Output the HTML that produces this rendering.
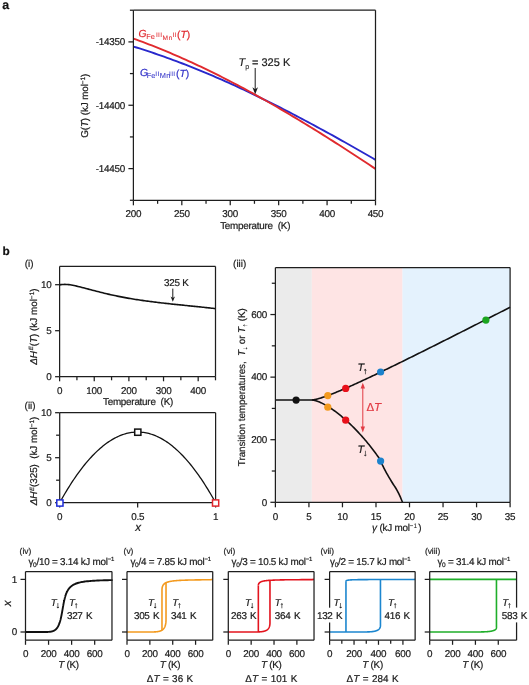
<!DOCTYPE html>
<html><head><meta charset="utf-8"><style>
html,body{margin:0;padding:0;background:#fff;}
svg{display:block;font-family:"Liberation Sans", Arial, sans-serif;text-rendering:geometricPrecision;}
</style></head><body>
<svg width="529" height="685" viewBox="0 0 529 685">
<rect width="529" height="685" fill="#fff"/>
<text x="2.20" y="8.90" font-size="12.4" text-anchor="start" fill="#111" stroke="#111" stroke-width="0.2" font-weight="bold" >a</text>
<path d="M133.40,46.57 L136.46,47.51 L139.53,48.46 L142.59,49.44 L145.66,50.43 L148.72,51.43 L151.79,52.45 L154.85,53.49 L157.92,54.54 L160.98,55.61 L164.05,56.69 L167.11,57.79 L170.17,58.90 L173.24,60.03 L176.30,61.17 L179.37,62.33 L182.43,63.50 L185.50,64.69 L188.56,65.89 L191.63,67.10 L194.69,68.33 L197.76,69.57 L200.82,70.83 L203.88,72.10 L206.95,73.38 L210.01,74.67 L213.08,75.98 L216.14,77.30 L219.21,78.63 L222.27,79.98 L225.34,81.34 L228.40,82.71 L231.47,84.09 L234.53,85.48 L237.59,86.89 L240.66,88.31 L243.72,89.74 L246.79,91.18 L249.85,92.63 L252.92,94.09 L255.98,95.56 L259.05,97.04 L262.11,98.54 L265.18,100.04 L268.24,101.56 L271.31,103.08 L274.37,104.62 L277.43,106.16 L280.50,107.71 L283.56,109.28 L286.63,110.85 L289.69,112.43 L292.76,114.02 L295.82,115.62 L298.89,117.23 L301.95,118.85 L305.02,120.47 L308.08,122.10 L311.14,123.75 L314.21,125.40 L317.27,127.05 L320.34,128.72 L323.40,130.39 L326.47,132.07 L329.53,133.76 L332.60,135.45 L335.66,137.15 L338.73,138.86 L341.79,140.57 L344.85,142.29 L347.92,144.02 L350.98,145.75 L354.05,147.49 L357.11,149.24 L360.18,150.99 L363.24,152.74 L366.31,154.51 L369.37,156.27 L372.44,158.04 L375.50,159.82" fill="none" stroke="#2828cc" stroke-width="1.9" stroke-linejoin="round" stroke-linecap="butt" />
<path d="M133.40,38.62 L136.46,39.72 L139.53,40.84 L142.59,41.97 L145.66,43.12 L148.72,44.29 L151.79,45.48 L154.85,46.69 L157.92,47.91 L160.98,49.15 L164.05,50.40 L167.11,51.68 L170.17,52.97 L173.24,54.27 L176.30,55.59 L179.37,56.93 L182.43,58.28 L185.50,59.65 L188.56,61.04 L191.63,62.44 L194.69,63.86 L197.76,65.29 L200.82,66.73 L203.88,68.19 L206.95,69.67 L210.01,71.16 L213.08,72.66 L216.14,74.18 L219.21,75.71 L222.27,77.26 L225.34,78.82 L228.40,80.39 L231.47,81.98 L234.53,83.58 L237.59,85.20 L240.66,86.82 L243.72,88.46 L246.79,90.11 L249.85,91.78 L252.92,93.45 L255.98,95.14 L259.05,96.85 L262.11,98.56 L265.18,100.28 L268.24,102.02 L271.31,103.77 L274.37,105.53 L277.43,107.30 L280.50,109.08 L283.56,110.87 L286.63,112.67 L289.69,114.49 L292.76,116.31 L295.82,118.14 L298.89,119.99 L301.95,121.84 L305.02,123.70 L308.08,125.58 L311.14,127.46 L314.21,129.35 L317.27,131.25 L320.34,133.16 L323.40,135.08 L326.47,137.01 L329.53,138.94 L332.60,140.89 L335.66,142.84 L338.73,144.80 L341.79,146.77 L344.85,148.74 L347.92,150.73 L350.98,152.72 L354.05,154.72 L357.11,156.72 L360.18,158.73 L363.24,160.75 L366.31,162.78 L369.37,164.81 L372.44,166.85 L375.50,168.89" fill="none" stroke="#e02a2e" stroke-width="1.9" stroke-linejoin="round" stroke-linecap="butt" />
<line x1="133.40" y1="10.20" x2="375.50" y2="10.20" stroke="#1e1e1e" stroke-width="1.25" />
<line x1="375.50" y1="10.20" x2="375.50" y2="200.30" stroke="#1e1e1e" stroke-width="1.25" />
<line x1="133.40" y1="10.20" x2="133.40" y2="200.30" stroke="#1e1e1e" stroke-width="1.25" />
<line x1="133.40" y1="200.30" x2="375.50" y2="200.30" stroke="#1e1e1e" stroke-width="1.25" />
<line x1="129.90" y1="10.22" x2="133.40" y2="10.22" stroke="#1e1e1e" stroke-width="1.25" />
<line x1="128.40" y1="41.90" x2="133.40" y2="41.90" stroke="#1e1e1e" stroke-width="1.25" />
<text x="124.90" y="45.20" font-size="9.9" text-anchor="end" fill="#1a1a1a" stroke="#1a1a1a" stroke-width="0.2"  letter-spacing="-0.25">-14350</text>
<line x1="129.90" y1="73.58" x2="133.40" y2="73.58" stroke="#1e1e1e" stroke-width="1.25" />
<line x1="128.40" y1="105.25" x2="133.40" y2="105.25" stroke="#1e1e1e" stroke-width="1.25" />
<text x="124.90" y="108.55" font-size="9.9" text-anchor="end" fill="#1a1a1a" stroke="#1a1a1a" stroke-width="0.2"  letter-spacing="-0.25">-14400</text>
<line x1="129.90" y1="136.93" x2="133.40" y2="136.93" stroke="#1e1e1e" stroke-width="1.25" />
<line x1="128.40" y1="168.60" x2="133.40" y2="168.60" stroke="#1e1e1e" stroke-width="1.25" />
<text x="124.90" y="171.90" font-size="9.9" text-anchor="end" fill="#1a1a1a" stroke="#1a1a1a" stroke-width="0.2"  letter-spacing="-0.25">-14450</text>
<line x1="129.90" y1="200.28" x2="133.40" y2="200.28" stroke="#1e1e1e" stroke-width="1.25" />
<line x1="133.40" y1="200.30" x2="133.40" y2="205.30" stroke="#1e1e1e" stroke-width="1.25" />
<text x="133.40" y="216.90" font-size="9.9" text-anchor="middle" fill="#1a1a1a" stroke="#1a1a1a" stroke-width="0.2"  letter-spacing="-0.25">200</text>
<line x1="157.61" y1="200.30" x2="157.61" y2="203.80" stroke="#1e1e1e" stroke-width="1.25" />
<line x1="181.82" y1="200.30" x2="181.82" y2="205.30" stroke="#1e1e1e" stroke-width="1.25" />
<text x="181.82" y="216.90" font-size="9.9" text-anchor="middle" fill="#1a1a1a" stroke="#1a1a1a" stroke-width="0.2"  letter-spacing="-0.25">250</text>
<line x1="206.03" y1="200.30" x2="206.03" y2="203.80" stroke="#1e1e1e" stroke-width="1.25" />
<line x1="230.24" y1="200.30" x2="230.24" y2="205.30" stroke="#1e1e1e" stroke-width="1.25" />
<text x="230.24" y="216.90" font-size="9.9" text-anchor="middle" fill="#1a1a1a" stroke="#1a1a1a" stroke-width="0.2"  letter-spacing="-0.25">300</text>
<line x1="254.45" y1="200.30" x2="254.45" y2="203.80" stroke="#1e1e1e" stroke-width="1.25" />
<line x1="278.66" y1="200.30" x2="278.66" y2="205.30" stroke="#1e1e1e" stroke-width="1.25" />
<text x="278.66" y="216.90" font-size="9.9" text-anchor="middle" fill="#1a1a1a" stroke="#1a1a1a" stroke-width="0.2"  letter-spacing="-0.25">350</text>
<line x1="302.87" y1="200.30" x2="302.87" y2="203.80" stroke="#1e1e1e" stroke-width="1.25" />
<line x1="327.08" y1="200.30" x2="327.08" y2="205.30" stroke="#1e1e1e" stroke-width="1.25" />
<text x="327.08" y="216.90" font-size="9.9" text-anchor="middle" fill="#1a1a1a" stroke="#1a1a1a" stroke-width="0.2"  letter-spacing="-0.25">400</text>
<line x1="351.29" y1="200.30" x2="351.29" y2="203.80" stroke="#1e1e1e" stroke-width="1.25" />
<line x1="375.50" y1="200.30" x2="375.50" y2="205.30" stroke="#1e1e1e" stroke-width="1.25" />
<text x="375.50" y="216.90" font-size="9.9" text-anchor="middle" fill="#1a1a1a" stroke="#1a1a1a" stroke-width="0.2"  letter-spacing="-0.25">450</text>
<text x="255.20" y="228.80" font-size="9.9" text-anchor="middle" fill="#1a1a1a" stroke="#1a1a1a" stroke-width="0.2"  letter-spacing="-0.25">Temperature&#160; (K)</text>
<text transform="translate(88.4,105.8) rotate(-90)" font-size="9.9" letter-spacing="-0.1" text-anchor="middle" fill="#1a1a1a" stroke="#1a1a1a" stroke-width="0.2">G(<tspan font-style="italic">T</tspan>) (kJ mol<tspan font-size="6.5" dy="-3.5">−1</tspan><tspan dy="3.5">)</tspan></text>
<text x="238.60" y="65.50" font-size="11" text-anchor="start" fill="#1a1a1a" stroke="#1a1a1a" stroke-width="0.2" font-style="italic" >T</text>
<text x="245.30" y="68.80" font-size="7.2" text-anchor="start" fill="#1a1a1a" stroke="#1a1a1a" stroke-width="0.05" >p</text>
<text x="252.00" y="65.50" font-size="11" text-anchor="start" fill="#1a1a1a" stroke="#1a1a1a" stroke-width="0.2" >= 325 K</text>
<line x1="255.20" y1="68.00" x2="255.20" y2="90.00" stroke="#1a1a1a" stroke-width="1.0" />
<path d="M252.4,87.2 L255.2,94.2 L258.0,87.2 L255.2,89.2 Z" fill="#1a1a1a"/>
<text x="138.50" y="36.60" font-size="10.3" text-anchor="start" fill="#e0262c" stroke="#e0262c" stroke-width="0.2" font-style="italic" >G</text>
<text x="146.20" y="39.30" font-size="7.4" text-anchor="start" fill="#e0262c" stroke="#e0262c" stroke-width="0.05" >Fe</text>
<text x="155.90" y="37.20" font-size="6.6" text-anchor="start" fill="#e0262c" stroke="#e0262c" stroke-width="0.05" letter-spacing="0.3">III</text>
<text x="162.50" y="39.50" font-size="6.6" text-anchor="start" fill="#e0262c" stroke="#e0262c" stroke-width="0.05" letter-spacing="0.8">Mn</text>
<text x="172.40" y="37.20" font-size="6.6" text-anchor="start" fill="#e0262c" stroke="#e0262c" stroke-width="0.05" letter-spacing="0.3">II</text>
<text x="177.00" y="37.60" font-size="10.3" text-anchor="start" fill="#e0262c" stroke="#e0262c" stroke-width="0.2" >(<tspan font-style="italic">T</tspan>)</text>
<text x="139.90" y="76.00" font-size="10.3" text-anchor="start" fill="#3030c8" stroke="#3030c8" stroke-width="0.2" font-style="italic" >G</text>
<text x="146.80" y="78.30" font-size="7.4" text-anchor="start" fill="#3030c8" stroke="#3030c8" stroke-width="0.05" >Fe</text>
<text x="155.30" y="75.50" font-size="6.6" text-anchor="start" fill="#3030c8" stroke="#3030c8" stroke-width="0.05" letter-spacing="0.3">II</text>
<text x="159.80" y="78.30" font-size="7.4" text-anchor="start" fill="#3030c8" stroke="#3030c8" stroke-width="0.05" letter-spacing="0.2">Mn</text>
<text x="169.00" y="75.50" font-size="6.6" text-anchor="start" fill="#3030c8" stroke="#3030c8" stroke-width="0.05" letter-spacing="0.3">III</text>
<text x="176.00" y="76.60" font-size="10.3" text-anchor="start" fill="#3030c8" stroke="#3030c8" stroke-width="0.2" >(<tspan font-style="italic">T</tspan>)</text>
<text x="2.50" y="255.20" font-size="11.8" text-anchor="start" fill="#111" stroke="#111" stroke-width="0.2" font-weight="bold" >b</text>
<text x="24.70" y="267.10" font-size="9.9" text-anchor="start" fill="#1a1a1a" stroke="#1a1a1a" stroke-width="0.2" >(i)</text>
<path d="M59.60,284.88 L60.91,284.66 L62.22,284.51 L63.53,284.43 L64.84,284.40 L66.15,284.43 L67.46,284.51 L68.77,284.64 L70.08,284.81 L71.39,285.01 L72.70,285.25 L74.01,285.51 L75.32,285.80 L76.63,286.10 L77.94,286.42 L79.25,286.75 L80.56,287.08 L81.87,287.42 L83.18,287.76 L84.49,288.10 L85.80,288.44 L87.11,288.78 L88.42,289.13 L89.73,289.47 L91.04,289.81 L92.35,290.16 L93.66,290.50 L94.97,290.84 L96.28,291.18 L97.59,291.51 L98.90,291.85 L100.21,292.18 L101.52,292.51 L102.83,292.84 L104.14,293.16 L105.45,293.48 L106.76,293.79 L108.07,294.10 L109.38,294.40 L110.69,294.70 L112.00,294.99 L113.31,295.28 L114.62,295.56 L115.93,295.84 L117.24,296.11 L118.55,296.38 L119.86,296.64 L121.17,296.90 L122.48,297.15 L123.79,297.39 L125.10,297.64 L126.41,297.87 L127.72,298.11 L129.03,298.34 L130.34,298.56 L131.65,298.78 L132.96,299.00 L134.27,299.21 L135.58,299.42 L136.89,299.63 L138.21,299.83 L139.52,300.02 L140.83,300.22 L142.14,300.41 L143.45,300.60 L144.76,300.78 L146.07,300.96 L147.38,301.14 L148.69,301.32 L150.00,301.49 L151.31,301.66 L152.62,301.83 L153.93,301.99 L155.24,302.15 L156.55,302.31 L157.86,302.47 L159.17,302.63 L160.48,302.78 L161.79,302.93 L163.10,303.08 L164.41,303.23 L165.72,303.38 L167.03,303.52 L168.34,303.66 L169.65,303.81 L170.96,303.95 L172.27,304.08 L173.58,304.22 L174.89,304.36 L176.20,304.50 L177.51,304.63 L178.82,304.77 L180.13,304.90 L181.44,305.03 L182.75,305.17 L184.06,305.30 L185.37,305.43 L186.68,305.57 L187.99,305.70 L189.30,305.83 L190.61,305.96 L191.92,306.10 L193.23,306.23 L194.54,306.36 L195.85,306.50 L197.16,306.63 L198.47,306.77 L199.78,306.90 L201.09,307.04 L202.40,307.18 L203.71,307.32 L205.02,307.46 L206.33,307.60 L207.64,307.74 L208.95,307.89 L210.26,308.03 L211.57,308.18 L212.88,308.33 L214.19,308.48 L215.50,308.64" fill="none" stroke="#111" stroke-width="1.6" stroke-linejoin="round" stroke-linecap="butt" />
<line x1="59.60" y1="266.40" x2="215.50" y2="266.40" stroke="#1e1e1e" stroke-width="1.25" />
<line x1="215.50" y1="266.40" x2="215.50" y2="376.70" stroke="#1e1e1e" stroke-width="1.25" />
<line x1="59.60" y1="266.40" x2="59.60" y2="376.70" stroke="#1e1e1e" stroke-width="1.25" />
<line x1="59.60" y1="376.70" x2="215.50" y2="376.70" stroke="#1e1e1e" stroke-width="1.25" />
<line x1="55.10" y1="376.70" x2="59.60" y2="376.70" stroke="#1e1e1e" stroke-width="1.25" />
<text x="51.60" y="380.00" font-size="9.9" text-anchor="end" fill="#1a1a1a" stroke="#1a1a1a" stroke-width="0.2"  letter-spacing="-0.25">0</text>
<line x1="55.10" y1="330.70" x2="59.60" y2="330.70" stroke="#1e1e1e" stroke-width="1.25" />
<text x="51.60" y="334.00" font-size="9.9" text-anchor="end" fill="#1a1a1a" stroke="#1a1a1a" stroke-width="0.2"  letter-spacing="-0.25">5</text>
<line x1="55.10" y1="284.70" x2="59.60" y2="284.70" stroke="#1e1e1e" stroke-width="1.25" />
<text x="51.60" y="288.00" font-size="9.9" text-anchor="end" fill="#1a1a1a" stroke="#1a1a1a" stroke-width="0.2"  letter-spacing="-0.25">10</text>
<line x1="59.60" y1="376.70" x2="59.60" y2="381.30" stroke="#1e1e1e" stroke-width="1.25" />
<text x="59.60" y="393.60" font-size="9.9" text-anchor="middle" fill="#1a1a1a" stroke="#1a1a1a" stroke-width="0.2"  letter-spacing="-0.25">0</text>
<line x1="76.92" y1="376.70" x2="76.92" y2="380.30" stroke="#1e1e1e" stroke-width="1.25" />
<line x1="94.24" y1="376.70" x2="94.24" y2="381.30" stroke="#1e1e1e" stroke-width="1.25" />
<text x="94.24" y="393.60" font-size="9.9" text-anchor="middle" fill="#1a1a1a" stroke="#1a1a1a" stroke-width="0.2"  letter-spacing="-0.25">100</text>
<line x1="111.57" y1="376.70" x2="111.57" y2="380.30" stroke="#1e1e1e" stroke-width="1.25" />
<line x1="128.89" y1="376.70" x2="128.89" y2="381.30" stroke="#1e1e1e" stroke-width="1.25" />
<text x="128.89" y="393.60" font-size="9.9" text-anchor="middle" fill="#1a1a1a" stroke="#1a1a1a" stroke-width="0.2"  letter-spacing="-0.25">200</text>
<line x1="146.21" y1="376.70" x2="146.21" y2="380.30" stroke="#1e1e1e" stroke-width="1.25" />
<line x1="163.53" y1="376.70" x2="163.53" y2="381.30" stroke="#1e1e1e" stroke-width="1.25" />
<text x="163.53" y="393.60" font-size="9.9" text-anchor="middle" fill="#1a1a1a" stroke="#1a1a1a" stroke-width="0.2"  letter-spacing="-0.25">300</text>
<line x1="180.86" y1="376.70" x2="180.86" y2="380.30" stroke="#1e1e1e" stroke-width="1.25" />
<line x1="198.18" y1="376.70" x2="198.18" y2="381.30" stroke="#1e1e1e" stroke-width="1.25" />
<text x="198.18" y="393.60" font-size="9.9" text-anchor="middle" fill="#1a1a1a" stroke="#1a1a1a" stroke-width="0.2"  letter-spacing="-0.25">400</text>
<line x1="215.50" y1="376.70" x2="215.50" y2="380.30" stroke="#1e1e1e" stroke-width="1.25" />
<text x="138.00" y="404.60" font-size="9.9" text-anchor="middle" fill="#1a1a1a" stroke="#1a1a1a" stroke-width="0.2"  letter-spacing="-0.25">Temperature&#160; (K)</text>
<text transform="translate(37.0,326.6) rotate(-90)" font-size="9.9" letter-spacing="0" text-anchor="middle" fill="#1a1a1a" stroke="#1a1a1a" stroke-width="0.2"><tspan font-style="italic">ΔH</tspan><tspan font-size="6" dx="0.7" dy="-3.6" font-style="italic">E</tspan><tspan dy="3.6">(</tspan><tspan font-style="italic">T</tspan>) (kJ mol<tspan font-size="6.5" dy="-3.5">−1</tspan><tspan dy="3.5">)</tspan></text>
<text x="164.00" y="286.40" font-size="9.9" text-anchor="start" fill="#1a1a1a" stroke="#1a1a1a" stroke-width="0.2"  letter-spacing="-0.25">325 K</text>
<line x1="172.80" y1="288.60" x2="172.80" y2="299.00" stroke="#1a1a1a" stroke-width="1.0" />
<path d="M170.6,296.6 L172.8,301.8 L175.0,296.6 L172.8,298 Z" fill="#1a1a1a"/>
<text x="24.60" y="409.40" font-size="9.9" text-anchor="start" fill="#1a1a1a" stroke="#1a1a1a" stroke-width="0.2" >(ii)</text>
<path d="M59.70,502.70 L61.01,500.35 L62.32,498.03 L63.63,495.76 L64.94,493.52 L66.25,491.32 L67.56,489.17 L68.87,487.05 L70.18,484.98 L71.49,482.94 L72.80,480.95 L74.11,478.99 L75.42,477.08 L76.73,475.20 L78.04,473.36 L79.35,471.57 L80.66,469.81 L81.97,468.10 L83.28,466.42 L84.59,464.78 L85.90,463.19 L87.21,461.63 L88.52,460.11 L89.83,458.64 L91.14,457.20 L92.45,455.80 L93.76,454.45 L95.07,453.13 L96.38,451.85 L97.69,450.61 L99.00,449.42 L100.31,448.26 L101.62,447.14 L102.93,446.06 L104.24,445.03 L105.55,444.03 L106.86,443.07 L108.17,442.15 L109.48,441.27 L110.79,440.44 L112.10,439.64 L113.41,438.88 L114.72,438.16 L116.03,437.48 L117.34,436.84 L118.65,436.25 L119.96,435.69 L121.27,435.17 L122.58,434.69 L123.89,434.25 L125.20,433.85 L126.51,433.49 L127.82,433.17 L129.13,432.89 L130.44,432.65 L131.75,432.45 L133.06,432.29 L134.37,432.17 L135.68,432.09 L136.99,432.05 L138.31,432.05 L139.62,432.09 L140.93,432.17 L142.24,432.29 L143.55,432.45 L144.86,432.65 L146.17,432.89 L147.48,433.17 L148.79,433.49 L150.10,433.85 L151.41,434.25 L152.72,434.69 L154.03,435.17 L155.34,435.69 L156.65,436.25 L157.96,436.84 L159.27,437.48 L160.58,438.16 L161.89,438.88 L163.20,439.64 L164.51,440.44 L165.82,441.27 L167.13,442.15 L168.44,443.07 L169.75,444.03 L171.06,445.03 L172.37,446.06 L173.68,447.14 L174.99,448.26 L176.30,449.42 L177.61,450.61 L178.92,451.85 L180.23,453.13 L181.54,454.45 L182.85,455.80 L184.16,457.20 L185.47,458.64 L186.78,460.11 L188.09,461.63 L189.40,463.19 L190.71,464.78 L192.02,466.42 L193.33,468.10 L194.64,469.81 L195.95,471.57 L197.26,473.36 L198.57,475.20 L199.88,477.08 L201.19,478.99 L202.50,480.95 L203.81,482.94 L205.12,484.98 L206.43,487.05 L207.74,489.17 L209.05,491.32 L210.36,493.52 L211.67,495.76 L212.98,498.03 L214.29,500.35 L215.60,502.70" fill="none" stroke="#111" stroke-width="1.3" stroke-linejoin="round" stroke-linecap="butt" />
<line x1="59.70" y1="412.70" x2="215.60" y2="412.70" stroke="#1e1e1e" stroke-width="1.25" />
<line x1="215.60" y1="412.70" x2="215.60" y2="502.70" stroke="#1e1e1e" stroke-width="1.25" />
<line x1="59.70" y1="412.70" x2="59.70" y2="502.70" stroke="#1e1e1e" stroke-width="1.25" />
<line x1="59.70" y1="502.70" x2="215.60" y2="502.70" stroke="#1e1e1e" stroke-width="1.25" />
<line x1="55.10" y1="502.70" x2="59.70" y2="502.70" stroke="#1e1e1e" stroke-width="1.25" />
<text x="51.60" y="506.00" font-size="9.9" text-anchor="end" fill="#1a1a1a" stroke="#1a1a1a" stroke-width="0.2"  letter-spacing="-0.25">0</text>
<line x1="56.10" y1="480.20" x2="59.70" y2="480.20" stroke="#1e1e1e" stroke-width="1.25" />
<line x1="55.10" y1="457.70" x2="59.70" y2="457.70" stroke="#1e1e1e" stroke-width="1.25" />
<text x="51.60" y="461.00" font-size="9.9" text-anchor="end" fill="#1a1a1a" stroke="#1a1a1a" stroke-width="0.2"  letter-spacing="-0.25">5</text>
<line x1="56.10" y1="435.20" x2="59.70" y2="435.20" stroke="#1e1e1e" stroke-width="1.25" />
<line x1="55.10" y1="412.70" x2="59.70" y2="412.70" stroke="#1e1e1e" stroke-width="1.25" />
<text x="51.60" y="416.00" font-size="9.9" text-anchor="end" fill="#1a1a1a" stroke="#1a1a1a" stroke-width="0.2"  letter-spacing="-0.25">10</text>
<line x1="59.70" y1="502.70" x2="59.70" y2="507.50" stroke="#1e1e1e" stroke-width="1.25" />
<text x="59.70" y="519.80" font-size="9.9" text-anchor="middle" fill="#1a1a1a" stroke="#1a1a1a" stroke-width="0.2"  letter-spacing="-0.25">0</text>
<line x1="137.65" y1="502.70" x2="137.65" y2="507.50" stroke="#1e1e1e" stroke-width="1.25" />
<text x="137.65" y="519.80" font-size="9.9" text-anchor="middle" fill="#1a1a1a" stroke="#1a1a1a" stroke-width="0.2"  letter-spacing="-0.25">0.5</text>
<line x1="215.60" y1="502.70" x2="215.60" y2="507.50" stroke="#1e1e1e" stroke-width="1.25" />
<text x="215.60" y="519.80" font-size="9.9" text-anchor="middle" fill="#1a1a1a" stroke="#1a1a1a" stroke-width="0.2"  letter-spacing="-0.25">1</text>
<text x="138.20" y="531.20" font-size="11.5" text-anchor="middle" fill="#1a1a1a" stroke="#1a1a1a" stroke-width="0.2" font-style="italic" >x</text>
<text transform="translate(37.2,461.0) rotate(-90)" font-size="9.9" letter-spacing="-0.05" text-anchor="middle" fill="#1a1a1a" stroke="#1a1a1a" stroke-width="0.2"><tspan font-style="italic">ΔH</tspan><tspan font-size="6" dx="0.7" dy="-3.6" font-style="italic">E</tspan><tspan dy="3.6">(325)&#160; (kJ mol</tspan><tspan font-size="6.5" dy="-3.5">−1</tspan><tspan dy="3.5">)</tspan></text>
<rect x="134.70" y="429.10" width="6.2" height="6.2" fill="#fff" stroke="#111" stroke-width="1.5"/>
<rect x="56.80" y="499.90" width="6.2" height="6.2" fill="#fff" stroke="#1e2bd6" stroke-width="1.5"/>
<rect x="212.50" y="499.90" width="6.2" height="6.2" fill="#fff" stroke="#e0262c" stroke-width="1.5"/>
<text x="233.10" y="266.80" font-size="9.9" text-anchor="start" fill="#1a1a1a" stroke="#1a1a1a" stroke-width="0.2" >(iii)</text>
<rect x="275.40" y="267.60" width="36.41" height="234.70" fill="#ebebeb" stroke="none" stroke-width="0"/>
<rect x="311.81" y="267.60" width="90.79" height="234.70" fill="#fee4e4" stroke="none" stroke-width="0"/>
<rect x="402.50" y="267.60" width="107.60" height="234.70" fill="#e4f2fd" stroke="none" stroke-width="0"/>
<path d="M275.40,399.97 L311.81,399.97 L311.95,399.97 L312.19,399.95 L312.43,399.93 L312.67,399.91 L312.92,399.88 L313.16,399.84 L313.40,399.81 L313.65,399.77 L313.89,399.73 L314.13,399.69 L314.37,399.64 L314.62,399.59 L314.86,399.54 L315.10,399.49 L315.35,399.44 L315.59,399.39 L315.83,399.33 L316.07,399.28 L316.32,399.22 L316.56,399.16 L316.80,399.10 L317.04,399.04 L317.29,398.97 L317.53,398.91 L317.77,398.85 L318.02,398.78 L318.26,398.71 L318.50,398.65 L318.74,398.58 L318.99,398.51 L318.99,398.51 L319.95,398.23 L320.91,397.93 L321.87,397.63 L322.83,397.32 L323.79,396.99 L324.75,396.66 L325.71,396.33 L326.67,395.98 L327.63,395.63 L328.59,395.27 L329.55,394.91 L330.51,394.55 L331.47,394.17 L332.43,393.80 L333.39,393.42 L334.35,393.03 L335.31,392.64 L336.27,392.25 L337.23,391.86 L338.19,391.46 L339.15,391.06 L340.12,390.65 L341.08,390.25 L342.04,389.84 L343.00,389.42 L343.96,389.01 L344.92,388.59 L345.88,388.17 L346.84,387.75 L347.80,387.33 L348.76,386.90 L349.72,386.48 L350.68,386.05 L351.64,385.62 L352.60,385.19 L353.56,384.75 L354.52,384.32 L355.48,383.88 L356.44,383.45 L357.40,383.01 L358.36,382.57 L359.32,382.12 L360.28,381.68 L361.24,381.24 L362.20,380.79 L363.16,380.35 L364.12,379.90 L365.08,379.45 L366.05,379.00 L367.01,378.55 L367.97,378.10 L368.93,377.65 L369.89,377.19 L370.85,376.74 L371.81,376.29 L372.77,375.83 L373.73,375.37 L374.69,374.92 L375.65,374.46 L376.61,374.00 L377.57,373.54 L378.53,373.08 L379.49,372.62 L380.45,372.16 L381.41,371.70 L382.37,371.23 L383.33,370.77 L384.29,370.31 L385.25,369.84 L386.21,369.38 L387.17,368.91 L388.13,368.45 L389.09,367.98 L390.05,367.52 L391.01,367.05 L391.97,366.58 L392.94,366.11 L393.90,365.64 L394.86,365.17 L395.82,364.70 L396.78,364.23 L397.74,363.76 L398.70,363.29 L399.66,362.82 L400.62,362.35 L401.58,361.88 L402.54,361.41 L403.50,360.93 L404.46,360.46 L405.42,359.99 L406.38,359.51 L407.34,359.04 L408.30,358.57 L409.26,358.09 L410.22,357.62 L411.18,357.14 L412.14,356.67 L413.10,356.19 L414.06,355.71 L415.02,355.24 L415.98,354.76 L416.94,354.28 L417.90,353.81 L418.87,353.33 L419.83,352.85 L420.79,352.37 L421.75,351.90 L422.71,351.42 L423.67,350.94 L424.63,350.46 L425.59,349.98 L426.55,349.50 L427.51,349.02 L428.47,348.54 L429.43,348.06 L430.39,347.58 L431.35,347.10 L432.31,346.62 L433.27,346.14 L434.23,345.66 L435.19,345.18 L436.15,344.70 L437.11,344.21 L438.07,343.73 L439.03,343.25 L439.99,342.77 L440.95,342.29 L441.91,341.80 L442.87,341.32 L443.83,340.84 L444.80,340.35 L445.76,339.87 L446.72,339.39 L447.68,338.91 L448.64,338.42 L449.60,337.94 L450.56,337.45 L451.52,336.97 L452.48,336.49 L453.44,336.00 L454.40,335.52 L455.36,335.03 L456.32,334.55 L457.28,334.06 L458.24,333.58 L459.20,333.09 L460.16,332.61 L461.12,332.12 L462.08,331.64 L463.04,331.15 L464.00,330.67 L464.96,330.18 L465.92,329.69 L466.88,329.21 L467.84,328.72 L468.80,328.23 L469.76,327.75 L470.72,327.26 L471.69,326.78 L472.65,326.29 L473.61,325.80 L474.57,325.31 L475.53,324.83 L476.49,324.34 L477.45,323.85 L478.41,323.37 L479.37,322.88 L480.33,322.39 L481.29,321.90 L482.25,321.42 L483.21,320.93 L484.17,320.44 L485.13,319.95 L486.09,319.46 L487.05,318.98 L488.01,318.49 L488.97,318.00 L489.93,317.51 L490.89,317.02 L491.85,316.53 L492.81,316.05 L493.77,315.56 L494.73,315.07 L495.69,314.58 L496.65,314.09 L497.62,313.60 L498.58,313.11 L499.54,312.62 L500.50,312.13 L501.46,311.64 L502.42,311.16 L503.38,310.67 L504.34,310.18 L505.30,309.69 L506.26,309.20 L507.22,308.71 L508.18,308.22 L509.14,307.73 L510.10,307.24" fill="none" stroke="#111" stroke-width="1.6" stroke-linejoin="round" stroke-linecap="butt" />
<path d="M311.81,399.97 L311.95,399.97 L312.19,399.99 L312.43,400.01 L312.67,400.04 L312.92,400.07 L313.16,400.11 L313.40,400.15 L313.65,400.20 L313.89,400.25 L314.13,400.30 L314.37,400.36 L314.62,400.41 L314.86,400.48 L315.10,400.54 L315.35,400.61 L315.59,400.67 L315.83,400.74 L316.07,400.82 L316.32,400.89 L316.56,400.97 L316.80,401.05 L317.04,401.13 L317.29,401.22 L317.53,401.30 L317.77,401.39 L318.02,401.48 L318.26,401.57 L318.50,401.67 L318.74,401.76 L318.99,401.86 L318.99,401.86 L319.95,402.26 L320.91,402.68 L321.87,403.13 L322.83,403.60 L323.79,404.10 L324.75,404.61 L325.71,405.15 L326.67,405.70 L327.63,406.27 L328.59,406.86 L329.55,407.47 L330.51,408.09 L331.47,408.73 L332.43,409.39 L333.39,410.06 L334.35,410.75 L335.31,411.45 L336.27,412.17 L337.23,412.90 L338.19,413.65 L339.15,414.41 L340.12,415.19 L341.08,415.98 L342.04,416.78 L343.00,417.59 L343.96,418.42 L344.92,419.26 L345.88,420.12 L346.84,420.99 L347.80,421.87 L348.76,422.76 L349.72,423.67 L350.68,424.59 L351.64,425.52 L352.60,426.47 L353.56,427.43 L354.52,428.40 L355.48,429.39 L356.44,430.38 L357.40,431.39 L358.36,432.42 L359.32,433.45 L360.28,434.50 L361.24,435.57 L362.20,436.65 L363.16,437.74 L364.12,438.84 L365.08,439.96 L366.05,441.10 L367.01,442.24 L367.97,443.41 L368.93,444.58 L369.89,445.78 L370.85,446.99 L371.81,448.21 L372.77,449.46 L373.73,450.71 L374.69,451.99 L375.65,453.29 L376.61,454.60 L377.57,455.93 L378.53,457.29 L379.49,458.66 L380.20,460.34 L381.13,462.35 L382.06,464.30 L382.99,466.19 L383.92,468.03 L384.85,469.82 L385.77,471.57 L386.70,473.27 L387.63,474.92 L388.56,476.53 L389.49,478.12 L390.42,479.68 L391.35,481.21 L392.28,482.72 L393.21,484.21 L394.14,485.65 L395.07,487.05 L396.00,488.49 L396.93,490.04 L397.85,491.77 L398.78,493.63 L399.71,495.61 L400.64,497.70 L401.57,499.94 L402.50,502.30" fill="none" stroke="#111" stroke-width="1.6" stroke-linejoin="round" stroke-linecap="butt" />
<line x1="275.40" y1="267.60" x2="510.10" y2="267.60" stroke="#1e1e1e" stroke-width="1.25" />
<line x1="510.10" y1="267.60" x2="510.10" y2="502.30" stroke="#1e1e1e" stroke-width="1.25" />
<line x1="275.40" y1="267.60" x2="275.40" y2="502.30" stroke="#1e1e1e" stroke-width="1.25" />
<line x1="275.40" y1="502.30" x2="510.10" y2="502.30" stroke="#1e1e1e" stroke-width="1.25" />
<line x1="270.40" y1="502.30" x2="275.40" y2="502.30" stroke="#1e1e1e" stroke-width="1.25" />
<text x="267.00" y="505.60" font-size="9.9" text-anchor="end" fill="#1a1a1a" stroke="#1a1a1a" stroke-width="0.2"  letter-spacing="-0.25">0</text>
<line x1="271.80" y1="471.01" x2="275.40" y2="471.01" stroke="#1e1e1e" stroke-width="1.25" />
<line x1="270.40" y1="439.71" x2="275.40" y2="439.71" stroke="#1e1e1e" stroke-width="1.25" />
<text x="267.00" y="443.01" font-size="9.9" text-anchor="end" fill="#1a1a1a" stroke="#1a1a1a" stroke-width="0.2"  letter-spacing="-0.25">200</text>
<line x1="271.80" y1="408.42" x2="275.40" y2="408.42" stroke="#1e1e1e" stroke-width="1.25" />
<line x1="270.40" y1="377.13" x2="275.40" y2="377.13" stroke="#1e1e1e" stroke-width="1.25" />
<text x="267.00" y="380.43" font-size="9.9" text-anchor="end" fill="#1a1a1a" stroke="#1a1a1a" stroke-width="0.2"  letter-spacing="-0.25">400</text>
<line x1="271.80" y1="345.83" x2="275.40" y2="345.83" stroke="#1e1e1e" stroke-width="1.25" />
<line x1="270.40" y1="314.54" x2="275.40" y2="314.54" stroke="#1e1e1e" stroke-width="1.25" />
<text x="267.00" y="317.84" font-size="9.9" text-anchor="end" fill="#1a1a1a" stroke="#1a1a1a" stroke-width="0.2"  letter-spacing="-0.25">600</text>
<line x1="271.80" y1="283.25" x2="275.40" y2="283.25" stroke="#1e1e1e" stroke-width="1.25" />
<line x1="275.40" y1="502.30" x2="275.40" y2="507.30" stroke="#1e1e1e" stroke-width="1.25" />
<text x="275.40" y="519.70" font-size="9.9" text-anchor="middle" fill="#1a1a1a" stroke="#1a1a1a" stroke-width="0.2"  letter-spacing="-0.25">0</text>
<line x1="308.93" y1="502.30" x2="308.93" y2="507.30" stroke="#1e1e1e" stroke-width="1.25" />
<text x="308.93" y="519.70" font-size="9.9" text-anchor="middle" fill="#1a1a1a" stroke="#1a1a1a" stroke-width="0.2"  letter-spacing="-0.25">5</text>
<line x1="342.46" y1="502.30" x2="342.46" y2="507.30" stroke="#1e1e1e" stroke-width="1.25" />
<text x="342.46" y="519.70" font-size="9.9" text-anchor="middle" fill="#1a1a1a" stroke="#1a1a1a" stroke-width="0.2"  letter-spacing="-0.25">10</text>
<line x1="375.99" y1="502.30" x2="375.99" y2="507.30" stroke="#1e1e1e" stroke-width="1.25" />
<text x="375.99" y="519.70" font-size="9.9" text-anchor="middle" fill="#1a1a1a" stroke="#1a1a1a" stroke-width="0.2"  letter-spacing="-0.25">15</text>
<line x1="409.51" y1="502.30" x2="409.51" y2="507.30" stroke="#1e1e1e" stroke-width="1.25" />
<text x="409.51" y="519.70" font-size="9.9" text-anchor="middle" fill="#1a1a1a" stroke="#1a1a1a" stroke-width="0.2"  letter-spacing="-0.25">20</text>
<line x1="443.04" y1="502.30" x2="443.04" y2="507.30" stroke="#1e1e1e" stroke-width="1.25" />
<text x="443.04" y="519.70" font-size="9.9" text-anchor="middle" fill="#1a1a1a" stroke="#1a1a1a" stroke-width="0.2"  letter-spacing="-0.25">25</text>
<line x1="476.57" y1="502.30" x2="476.57" y2="507.30" stroke="#1e1e1e" stroke-width="1.25" />
<text x="476.57" y="519.70" font-size="9.9" text-anchor="middle" fill="#1a1a1a" stroke="#1a1a1a" stroke-width="0.2"  letter-spacing="-0.25">30</text>
<line x1="510.10" y1="502.30" x2="510.10" y2="507.30" stroke="#1e1e1e" stroke-width="1.25" />
<text x="510.10" y="519.70" font-size="9.9" text-anchor="middle" fill="#1a1a1a" stroke="#1a1a1a" stroke-width="0.2"  letter-spacing="-0.25">35</text>
<text x="372.00" y="531.20" font-size="10" text-anchor="start" fill="#1a1a1a" stroke="#1a1a1a" stroke-width="0.2" font-style="italic" >γ</text>
<text x="379.50" y="531.20" font-size="9.9" text-anchor="start" fill="#1a1a1a" stroke="#1a1a1a" stroke-width="0.2"  letter-spacing="-0.25">(kJ mol</text>
<text x="409.60" y="528.00" font-size="6.5" text-anchor="start" fill="#1a1a1a" stroke="#1a1a1a" stroke-width="0.05" >−1</text>
<text x="418.20" y="531.20" font-size="9.9" text-anchor="start" fill="#1a1a1a" stroke="#1a1a1a" stroke-width="0.2"  letter-spacing="-0.25">)</text>
<text transform="translate(245.0,387.2) rotate(-90)" font-size="9.9" letter-spacing="-0.08" text-anchor="middle" fill="#1a1a1a" stroke="#1a1a1a" stroke-width="0.2">Transition temperatures,&#160; <tspan font-style="italic">T</tspan><tspan font-size="6.5" dy="2">↓</tspan><tspan dy="-2"> or </tspan><tspan font-style="italic">T</tspan><tspan font-size="6.5" dy="2">↑</tspan><tspan dy="-2"> (K)</tspan></text>
<circle cx="296.10" cy="400.10" r="3.6" fill="#111"/>
<circle cx="327.80" cy="395.60" r="3.6" fill="#f39a1f"/>
<circle cx="327.80" cy="407.20" r="3.6" fill="#f39a1f"/>
<circle cx="345.70" cy="388.40" r="3.6" fill="#e8101a"/>
<circle cx="345.70" cy="420.20" r="3.6" fill="#e8101a"/>
<circle cx="380.60" cy="372.00" r="3.6" fill="#1c82cc"/>
<circle cx="380.60" cy="461.10" r="3.6" fill="#1c82cc"/>
<circle cx="485.90" cy="320.10" r="3.6" fill="#1aa51f"/>
<line x1="362.80" y1="387.00" x2="362.80" y2="428.00" stroke="#e23b44" stroke-width="1.0" />
<path d="M360.6,388.6 L362.8,382.8 L365.0,388.6 Z" fill="#e23b44"/>
<path d="M360.6,426.6 L362.8,432.4 L365.0,426.6 Z" fill="#e23b44"/>
<text x="366.40" y="410.90" font-size="11.5" text-anchor="start" fill="#e23b44" stroke="#e23b44" stroke-width="0.2" >Δ<tspan font-style="italic">T</tspan></text>
<text x="357.50" y="371.00" font-size="10.8" text-anchor="start" fill="#1a1a1a" stroke="#1a1a1a" stroke-width="0.2" font-style="italic" >T</text>
<text x="363.10" y="374.30" font-size="9" text-anchor="start" fill="#1a1a1a" stroke="#1a1a1a" stroke-width="0.2" >↑</text>
<text x="357.60" y="452.80" font-size="10.8" text-anchor="start" fill="#1a1a1a" stroke="#1a1a1a" stroke-width="0.2" font-style="italic" >T</text>
<text x="363.00" y="456.20" font-size="9" text-anchor="start" fill="#1a1a1a" stroke="#1a1a1a" stroke-width="0.2" >↓</text>
<path d="M25.50,632.00 L34.21,632.00 L34.22,632.00 L34.24,632.00 L34.26,632.00 L34.27,632.00 L34.29,632.00 L34.30,632.00 L34.32,632.00 L34.34,632.00 L34.35,632.00 L34.37,632.00 L34.39,632.00 L34.40,632.00 L34.42,632.00 L34.44,632.00 L34.46,632.00 L34.47,632.00 L34.49,632.00 L34.51,632.00 L34.52,632.00 L34.54,632.00 L34.56,632.00 L34.58,632.00 L34.59,632.00 L34.61,632.00 L34.63,632.00 L34.65,632.00 L34.66,632.00 L34.68,632.00 L34.70,632.00 L34.72,632.00 L34.74,632.00 L34.75,632.00 L34.77,632.00 L34.79,632.00 L34.81,632.00 L34.83,632.00 L34.84,632.00 L34.86,632.00 L34.88,632.00 L34.90,632.00 L34.92,632.00 L34.94,632.00 L34.96,632.00 L34.98,632.00 L35.00,632.00 L35.01,632.00 L35.03,632.00 L35.05,632.00 L35.07,632.00 L35.09,632.00 L35.11,632.00 L35.13,632.00 L35.15,632.00 L35.17,632.00 L35.19,632.00 L35.21,632.00 L35.23,632.00 L35.25,632.00 L35.27,632.00 L35.29,632.00 L35.31,632.00 L35.33,632.00 L35.35,632.00 L35.37,632.00 L35.39,632.00 L35.41,632.00 L35.43,632.00 L35.46,632.00 L35.48,632.00 L35.50,632.00 L35.52,632.00 L35.54,632.00 L35.56,632.00 L35.58,632.00 L35.60,632.00 L35.63,632.00 L35.65,632.00 L35.67,632.00 L35.69,632.00 L35.71,632.00 L35.74,632.00 L35.76,632.00 L35.78,632.00 L35.80,632.00 L35.83,632.00 L35.85,632.00 L35.87,632.00 L35.89,632.00 L35.92,632.00 L35.94,632.00 L35.96,632.00 L35.99,632.00 L36.01,632.00 L36.03,632.00 L36.06,632.00 L36.08,632.00 L36.10,632.00 L36.13,632.00 L36.15,632.00 L36.18,632.00 L36.20,632.00 L36.22,632.00 L36.25,632.00 L36.27,632.00 L36.30,632.00 L36.32,632.00 L36.35,632.00 L36.37,632.00 L36.40,632.00 L36.42,632.00 L36.45,632.00 L36.47,632.00 L36.50,632.00 L36.52,632.00 L36.55,632.00 L36.58,632.00 L36.60,632.00 L36.63,632.00 L36.66,632.00 L36.68,632.00 L36.71,632.00 L36.73,632.00 L36.76,632.00 L36.79,632.00 L36.82,632.00 L36.84,632.00 L36.87,632.00 L36.90,632.00 L36.92,632.00 L36.95,632.00 L36.98,632.00 L37.01,632.00 L37.04,632.00 L37.06,632.00 L37.09,632.00 L37.12,632.00 L37.15,632.00 L37.18,632.00 L37.21,632.00 L37.24,632.00 L37.27,632.00 L37.30,632.00 L37.33,632.00 L37.36,632.00 L37.39,632.00 L37.42,632.00 L37.45,632.00 L37.48,632.00 L37.51,632.00 L37.54,632.00 L37.57,632.00 L37.60,632.00 L37.63,632.00 L37.66,632.00 L37.69,632.00 L37.72,632.00 L37.76,632.00 L37.79,632.00 L37.82,632.00 L37.85,632.00 L37.88,632.00 L37.92,632.00 L37.95,632.00 L37.98,632.00 L38.02,632.00 L38.05,632.00 L38.08,632.00 L38.12,632.00 L38.15,632.00 L38.18,632.00 L38.22,632.00 L38.25,632.00 L38.29,632.00 L38.32,632.00 L38.36,632.00 L38.39,632.00 L38.43,632.00 L38.46,632.00 L38.50,632.00 L38.53,632.00 L38.57,632.00 L38.61,632.00 L38.64,632.00 L38.68,632.00 L38.72,632.00 L38.75,632.00 L38.79,632.00 L38.83,632.00 L38.87,632.00 L38.90,632.00 L38.94,632.00 L38.98,632.00 L39.02,632.00 L39.06,632.00 L39.10,632.00 L39.14,632.00 L39.17,632.00 L39.21,632.00 L39.25,632.00 L39.29,632.00 L39.33,632.00 L39.38,632.00 L39.42,632.00 L39.46,632.00 L39.50,632.00 L39.54,632.00 L39.58,632.00 L39.62,632.00 L39.67,632.00 L39.71,632.00 L39.75,632.00 L39.80,632.00 L39.84,632.00 L39.88,632.00 L39.93,632.00 L39.97,632.00 L40.02,632.00 L40.06,632.00 L40.11,632.00 L40.15,632.00 L40.20,632.00 L40.24,632.00 L40.29,632.00 L40.33,632.00 L40.38,632.00 L40.43,632.00 L40.48,632.00 L40.52,632.00 L40.57,632.00 L40.62,632.00 L40.67,632.00 L40.72,632.00 L40.77,632.00 L40.82,632.00 L40.87,632.00 L40.92,632.00 L40.97,632.00 L41.02,632.00 L41.07,632.00 L41.12,632.00 L41.17,632.00 L41.22,632.00 L41.28,632.00 L41.33,632.00 L41.38,632.00 L41.44,632.00 L41.49,632.00 L41.54,632.00 L41.60,632.00 L41.65,632.00 L41.71,632.00 L41.77,632.00 L41.82,632.00 L41.88,632.00 L41.94,632.00 L41.99,632.00 L42.05,632.00 L42.11,632.00 L42.17,632.00 L42.23,632.00 L42.29,632.00 L42.35,632.00 L42.41,632.00 L42.47,632.00 L42.53,632.00 L42.59,632.00 L42.65,632.00 L42.71,632.00 L42.78,632.00 L42.84,632.00 L42.90,632.00 L42.97,632.00 L43.03,632.00 L43.10,632.00 L43.16,632.00 L43.23,632.00 L43.30,632.00 L43.37,632.00 L43.43,632.00 L43.50,632.00 L43.57,632.00 L43.64,632.00 L43.71,632.00 L43.78,632.00 L43.85,632.00 L43.92,632.00 L43.99,632.00 L44.07,632.00 L44.14,632.00 L44.21,631.99 L44.29,631.99 L44.36,631.99 L44.44,631.99 L44.52,631.99 L44.59,631.99 L44.67,631.99 L44.75,631.99 L44.83,631.99 L44.91,631.99 L44.99,631.99 L45.07,631.99 L45.15,631.99 L45.23,631.99 L45.31,631.99 L45.40,631.99 L45.48,631.99 L45.57,631.98 L45.65,631.98 L45.74,631.98 L45.82,631.98 L45.91,631.98 L46.00,631.98 L46.09,631.98 L46.18,631.98 L46.27,631.97 L46.36,631.97 L46.45,631.97 L46.55,631.97 L46.64,631.97 L46.74,631.97 L46.83,631.96 L46.93,631.96 L47.03,631.96 L47.13,631.95 L47.22,631.95 L47.32,631.95 L47.43,631.95 L47.53,631.94 L47.63,631.94 L47.73,631.93 L47.84,631.93 L47.95,631.93 L48.05,631.92 L48.16,631.92 L48.27,631.91 L48.38,631.90 L48.49,631.90 L48.60,631.89 L48.71,631.88 L48.83,631.88 L48.94,631.87 L49.06,631.86 L49.18,631.85 L49.30,631.84 L49.41,631.83 L49.54,631.82 L49.66,631.81 L49.78,631.79 L49.90,631.78 L50.03,631.77 L50.16,631.75 L50.29,631.73 L50.41,631.72 L50.54,631.70 L50.68,631.68 L50.81,631.66 L50.94,631.63 L51.08,631.61 L51.22,631.58 L51.36,631.56 L51.50,631.53 L51.64,631.50 L51.78,631.46 L51.92,631.43 L52.07,631.39 L52.22,631.35 L52.36,631.31 L52.51,631.26 L52.66,631.22 L52.82,631.17 L52.97,631.11 L53.13,631.05 L53.28,630.99 L53.44,630.92 L53.60,630.85 L53.76,630.78 L53.93,630.70 L54.09,630.61 L54.26,630.52 L54.42,630.43 L54.59,630.32 L54.76,630.21 L54.93,630.10 L55.11,629.97 L55.28,629.84 L55.46,629.70 L55.64,629.54 L55.81,629.38 L55.99,629.21 L56.18,629.03 L56.36,628.83 L56.54,628.63 L56.73,628.41 L56.92,628.17 L57.10,627.92 L57.29,627.65 L57.48,627.37 L57.67,627.06 L57.87,626.74 L57.87,626.74 L57.93,626.63 L57.98,626.53 L58.04,626.42 L58.10,626.32 L58.16,626.21 L58.21,626.11 L58.26,626.00 L58.32,625.90 L58.37,625.79 L58.42,625.69 L58.47,625.58 L58.52,625.47 L58.57,625.37 L58.62,625.26 L58.67,625.16 L58.72,625.05 L58.76,624.95 L58.81,624.84 L58.85,624.74 L58.90,624.63 L58.94,624.53 L58.99,624.42 L59.03,624.31 L59.07,624.21 L59.11,624.10 L59.15,624.00 L59.19,623.89 L59.23,623.79 L59.27,623.68 L59.31,623.58 L59.35,623.47 L59.39,623.37 L59.43,623.26 L59.47,623.15 L59.50,623.05 L59.54,622.94 L59.58,622.84 L59.61,622.73 L59.65,622.63 L59.68,622.52 L59.72,622.42 L59.75,622.31 L59.78,622.21 L59.82,622.10 L59.85,621.99 L59.88,621.89 L59.92,621.78 L59.95,621.68 L59.98,621.57 L60.01,621.47 L60.04,621.36 L60.07,621.26 L60.11,621.15 L60.14,621.04 L60.17,620.94 L60.20,620.83 L60.23,620.73 L60.25,620.62 L60.28,620.52 L60.31,620.41 L60.34,620.31 L60.37,620.20 L60.40,620.10 L60.43,619.99 L60.45,619.88 L60.48,619.78 L60.51,619.67 L60.54,619.57 L60.56,619.46 L60.59,619.36 L60.62,619.25 L60.64,619.15 L60.67,619.04 L60.69,618.94 L60.72,618.83 L60.74,618.72 L60.77,618.62 L60.79,618.51 L60.82,618.41 L60.84,618.30 L60.87,618.20 L60.89,618.09 L60.92,617.99 L60.94,617.88 L60.97,617.78 L60.99,617.67 L61.01,617.56 L61.04,617.46 L61.06,617.35 L61.08,617.25 L61.11,617.14 L61.13,617.04 L61.15,616.93 L61.17,616.83 L61.20,616.72 L61.22,616.62 L61.24,616.51 L61.26,616.40 L61.29,616.30 L61.31,616.19 L61.33,616.09 L61.35,615.98 L61.37,615.88 L61.39,615.77 L61.42,615.67 L61.44,615.56 L61.46,615.46 L61.48,615.35 L61.50,615.24 L61.52,615.14 L61.54,615.03 L61.56,614.93 L61.58,614.82 L61.60,614.72 L61.62,614.61 L61.64,614.51 L61.66,614.40 L61.68,614.30 L61.70,614.19 L61.72,614.08 L61.74,613.98 L61.76,613.87 L61.78,613.77 L61.80,613.66 L61.82,613.56 L61.84,613.45 L61.86,613.35 L61.88,613.24 L61.90,613.14 L61.92,613.03 L61.94,612.92 L61.96,612.82 L61.98,612.71 L62.00,612.61 L62.02,612.50 L62.04,612.40 L62.05,612.29 L62.07,612.19 L62.09,612.08 L62.11,611.98 L62.13,611.87 L62.15,611.76 L62.17,611.66 L62.19,611.55 L62.20,611.45 L62.22,611.34 L62.24,611.24 L62.26,611.13 L62.28,611.03 L62.30,610.92 L62.31,610.81 L62.33,610.71 L62.35,610.60 L62.37,610.50 L62.39,610.39 L62.41,610.29 L62.42,610.18 L62.44,610.08 L62.46,609.97 L62.48,609.87 L62.50,609.76 L62.52,609.65 L62.53,609.55 L62.55,609.44 L62.57,609.34 L62.59,609.23 L62.61,609.13 L62.62,609.02 L62.64,608.92 L62.66,608.81 L62.68,608.71 L62.70,608.60 L62.72,608.49 L62.73,608.39 L62.75,608.28 L62.77,608.18 L62.79,608.07 L62.81,607.97 L62.82,607.86 L62.84,607.76 L62.86,607.65 L62.88,607.55 L62.90,607.44 L62.92,607.33 L62.93,607.23 L62.95,607.12 L62.97,607.02 L62.99,606.91 L63.01,606.81 L63.03,606.70 L63.04,606.60 L63.06,606.49 L63.08,606.39 L63.10,606.28 L63.12,606.17 L63.14,606.07 L63.16,605.96 L63.17,605.86 L63.19,605.75 L63.21,605.65 L63.23,605.54 L63.25,605.44 L63.27,605.33 L63.29,605.23 L63.31,605.12 L63.33,605.01 L63.35,604.91 L63.36,604.80 L63.38,604.70 L63.40,604.59 L63.42,604.49 L63.44,604.38 L63.46,604.28 L63.48,604.17 L63.50,604.07 L63.52,603.96 L63.54,603.85 L63.56,603.75 L63.58,603.64 L63.60,603.54 L63.62,603.43 L63.64,603.33 L63.66,603.22 L63.68,603.12 L63.70,603.01 L63.72,602.91 L63.74,602.80 L63.76,602.69 L63.78,602.59 L63.81,602.48 L63.83,602.38 L63.85,602.27 L63.87,602.17 L63.89,602.06 L63.91,601.96 L63.93,601.85 L63.95,601.75 L63.98,601.64 L64.00,601.53 L64.02,601.43 L64.04,601.32 L64.06,601.22 L64.09,601.11 L64.11,601.01 L64.13,600.90 L64.15,600.80 L64.18,600.69 L64.20,600.59 L64.22,600.48 L64.25,600.37 L64.27,600.27 L64.29,600.16 L64.32,600.06 L64.34,599.95 L64.37,599.85 L64.39,599.74 L64.41,599.64 L64.44,599.53 L64.46,599.42 L64.49,599.32 L64.51,599.21 L64.54,599.11 L64.56,599.00 L64.59,598.90 L64.62,598.79 L64.64,598.69 L64.67,598.58 L64.70,598.48 L64.72,598.37 L64.75,598.26 L64.78,598.16 L64.80,598.05 L64.83,597.95 L64.86,597.84 L64.89,597.74 L64.91,597.63 L64.94,597.53 L64.97,597.42 L65.00,597.32 L65.03,597.21 L65.06,597.10 L65.09,597.00 L65.12,596.89 L65.15,596.79 L65.18,596.68 L65.21,596.58 L65.24,596.47 L65.27,596.37 L65.30,596.26 L65.34,596.16 L65.37,596.05 L65.40,595.94 L65.43,595.84 L65.47,595.73 L65.50,595.63 L65.53,595.52 L65.57,595.42 L65.60,595.31 L65.64,595.21 L65.67,595.10 L65.71,595.00 L65.74,594.89 L65.78,594.78 L65.82,594.68 L65.85,594.57 L65.89,594.47 L65.93,594.36 L65.97,594.26 L66.01,594.15 L66.04,594.05 L66.08,593.94 L66.12,593.84 L66.16,593.73 L66.21,593.62 L66.25,593.52 L66.29,593.41 L66.33,593.31 L66.37,593.20 L66.42,593.10 L66.46,592.99 L66.51,592.89 L66.55,592.78 L66.60,592.68 L66.64,592.57 L66.69,592.46 L66.74,592.36 L66.79,592.25 L66.83,592.15 L66.88,592.04 L66.93,591.94 L66.98,591.83 L67.03,591.73 L67.09,591.62 L67.14,591.52 L67.19,591.41 L67.25,591.30 L67.30,591.20 L67.36,591.09 L67.41,590.99 L67.47,590.88 L67.53,590.78 L67.59,590.67 L67.65,590.57 L67.71,590.46 L67.77,590.36 L67.83,590.25 L67.90,590.14 L67.96,590.04 L68.03,589.93 L68.09,589.83 L68.16,589.72 L68.23,589.62 L68.30,589.51 L68.37,589.41 L68.44,589.30 L68.52,589.19 L68.59,589.09 L68.67,588.98 L68.75,588.88 L68.82,588.77 L68.90,588.67 L68.99,588.56 L69.07,588.46 L69.15,588.35 L69.24,588.25 L69.33,588.14 L69.42,588.03 L69.51,587.93 L69.60,587.82 L69.70,587.72 L69.79,587.61 L69.89,587.51 L69.99,587.40 L70.10,587.30 L70.20,587.19 L70.31,587.09 L70.42,586.98 L70.53,586.87 L70.64,586.77 L70.76,586.66 L70.88,586.56 L71.00,586.45 L71.13,586.35 L71.26,586.24 L71.39,586.14 L71.52,586.03 L71.66,585.93 L71.80,585.82 L71.95,585.71 L72.10,585.61 L72.25,585.50 L72.41,585.40 L72.57,585.29 L72.74,585.19 L72.91,585.08 L73.08,584.98 L73.26,584.87 L73.45,584.77 L73.64,584.66 L73.64,584.66 L74.27,584.34 L74.92,584.03 L75.60,583.75 L76.29,583.48 L77.02,583.23 L77.76,582.99 L78.54,582.77 L79.34,582.57 L80.17,582.37 L81.03,582.19 L81.93,582.02 L82.85,581.86 L83.81,581.70 L84.81,581.56 L85.84,581.43 L86.91,581.30 L88.03,581.19 L89.19,581.08 L90.39,580.97 L91.65,580.88 L92.96,580.79 L94.32,580.70 L95.74,580.62 L97.22,580.55 L98.77,580.48 L100.39,580.41 L102.09,580.35 L103.86,580.29 L105.72,580.23 L107.68,580.18 L109.73,580.14 L111.89,580.09 L111.97,579.40" fill="none" stroke="#111" stroke-width="1.9" stroke-linejoin="round" stroke-linecap="butt" />
<line x1="25.50" y1="571.60" x2="111.97" y2="571.60" stroke="#1e1e1e" stroke-width="1.25" />
<line x1="111.97" y1="571.60" x2="111.97" y2="640.20" stroke="#1e1e1e" stroke-width="1.25" />
<line x1="25.50" y1="571.60" x2="25.50" y2="640.20" stroke="#1e1e1e" stroke-width="1.25" />
<line x1="25.50" y1="640.20" x2="111.97" y2="640.20" stroke="#1e1e1e" stroke-width="1.25" />
<line x1="20.50" y1="632.00" x2="25.50" y2="632.00" stroke="#1e1e1e" stroke-width="1.25" />
<line x1="20.50" y1="579.40" x2="25.50" y2="579.40" stroke="#1e1e1e" stroke-width="1.25" />
<line x1="25.50" y1="640.20" x2="25.50" y2="644.80" stroke="#1e1e1e" stroke-width="1.25" />
<text x="25.50" y="656.90" font-size="9.9" text-anchor="middle" fill="#1a1a1a" stroke="#1a1a1a" stroke-width="0.2"  letter-spacing="-0.25">0</text>
<line x1="48.56" y1="640.20" x2="48.56" y2="644.80" stroke="#1e1e1e" stroke-width="1.25" />
<text x="48.56" y="656.90" font-size="9.9" text-anchor="middle" fill="#1a1a1a" stroke="#1a1a1a" stroke-width="0.2"  letter-spacing="-0.25">200</text>
<line x1="71.62" y1="640.20" x2="71.62" y2="644.80" stroke="#1e1e1e" stroke-width="1.25" />
<text x="71.62" y="656.90" font-size="9.9" text-anchor="middle" fill="#1a1a1a" stroke="#1a1a1a" stroke-width="0.2"  letter-spacing="-0.25">400</text>
<line x1="94.68" y1="640.20" x2="94.68" y2="644.80" stroke="#1e1e1e" stroke-width="1.25" />
<text x="94.68" y="656.90" font-size="9.9" text-anchor="middle" fill="#1a1a1a" stroke="#1a1a1a" stroke-width="0.2"  letter-spacing="-0.25">600</text>
<text x="68.50" y="668.40" font-size="9.9" text-anchor="middle" fill="#1a1a1a" stroke="#1a1a1a" stroke-width="0.2"  letter-spacing="-0.25"><tspan font-style="italic">T</tspan> (K)</text>
<text x="19.60" y="554.40" font-size="8.4" text-anchor="start" fill="#1a1a1a" stroke="#1a1a1a" stroke-width="0.2" >(iv)</text>
<text x="28.40" y="564.90" font-size="9.9" text-anchor="start" fill="#1a1a1a" stroke="#1a1a1a" stroke-width="0.2"  letter-spacing="-0.25">γ<tspan font-size="6.5" dy="1.8">0</tspan><tspan dy="-1.8">/10 = 3.14 kJ mol</tspan><tspan font-size="6" dy="-3.6">−1</tspan></text>
<path d="M127.00,632.00 L137.51,632.00 L137.53,632.00 L137.55,632.00 L137.57,632.00 L137.59,632.00 L137.61,632.00 L137.63,632.00 L137.65,632.00 L137.67,632.00 L137.69,632.00 L137.71,632.00 L137.73,632.00 L137.75,632.00 L137.77,632.00 L137.79,632.00 L137.81,632.00 L137.83,632.00 L137.85,632.00 L137.87,632.00 L137.89,632.00 L137.92,632.00 L137.94,632.00 L137.96,632.00 L137.98,632.00 L138.00,632.00 L138.02,632.00 L138.04,632.00 L138.06,632.00 L138.09,632.00 L138.11,632.00 L138.13,632.00 L138.15,632.00 L138.17,632.00 L138.19,632.00 L138.22,632.00 L138.24,632.00 L138.26,632.00 L138.28,632.00 L138.30,632.00 L138.33,632.00 L138.35,632.00 L138.37,632.00 L138.40,632.00 L138.42,632.00 L138.44,632.00 L138.46,632.00 L138.49,632.00 L138.51,632.00 L138.53,632.00 L138.56,632.00 L138.58,632.00 L138.60,632.00 L138.63,632.00 L138.65,632.00 L138.68,632.00 L138.70,632.00 L138.72,632.00 L138.75,632.00 L138.77,632.00 L138.80,632.00 L138.82,632.00 L138.85,632.00 L138.87,632.00 L138.89,632.00 L138.92,632.00 L138.94,632.00 L138.97,632.00 L138.99,632.00 L139.02,632.00 L139.05,632.00 L139.07,632.00 L139.10,632.00 L139.12,632.00 L139.15,632.00 L139.17,632.00 L139.20,632.00 L139.23,632.00 L139.25,632.00 L139.28,632.00 L139.31,632.00 L139.33,632.00 L139.36,632.00 L139.39,632.00 L139.41,632.00 L139.44,632.00 L139.47,632.00 L139.49,632.00 L139.52,632.00 L139.55,632.00 L139.58,632.00 L139.60,632.00 L139.63,632.00 L139.66,632.00 L139.69,632.00 L139.72,632.00 L139.75,632.00 L139.77,632.00 L139.80,632.00 L139.83,632.00 L139.86,632.00 L139.89,632.00 L139.92,632.00 L139.95,632.00 L139.98,632.00 L140.01,632.00 L140.04,632.00 L140.07,632.00 L140.10,632.00 L140.13,632.00 L140.16,632.00 L140.19,632.00 L140.22,632.00 L140.25,632.00 L140.28,632.00 L140.31,632.00 L140.34,632.00 L140.37,632.00 L140.40,632.00 L140.44,632.00 L140.47,632.00 L140.50,632.00 L140.53,632.00 L140.56,632.00 L140.60,632.00 L140.63,632.00 L140.66,632.00 L140.69,632.00 L140.73,632.00 L140.76,632.00 L140.79,632.00 L140.83,632.00 L140.86,632.00 L140.89,632.00 L140.93,632.00 L140.96,632.00 L141.00,632.00 L141.03,632.00 L141.07,632.00 L141.10,632.00 L141.14,632.00 L141.17,632.00 L141.21,632.00 L141.24,632.00 L141.28,632.00 L141.31,632.00 L141.35,632.00 L141.39,632.00 L141.42,632.00 L141.46,632.00 L141.50,632.00 L141.53,632.00 L141.57,632.00 L141.61,632.00 L141.64,632.00 L141.68,632.00 L141.72,632.00 L141.76,632.00 L141.80,632.00 L141.83,632.00 L141.87,632.00 L141.91,632.00 L141.95,632.00 L141.99,632.00 L142.03,632.00 L142.07,632.00 L142.11,632.00 L142.15,632.00 L142.19,632.00 L142.23,632.00 L142.27,632.00 L142.31,632.00 L142.35,632.00 L142.40,632.00 L142.44,632.00 L142.48,632.00 L142.52,632.00 L142.56,632.00 L142.61,632.00 L142.65,632.00 L142.69,632.00 L142.74,632.00 L142.78,632.00 L142.82,632.00 L142.87,632.00 L142.91,632.00 L142.96,632.00 L143.00,632.00 L143.05,632.00 L143.09,632.00 L143.14,632.00 L143.18,632.00 L143.23,632.00 L143.27,632.00 L143.32,632.00 L143.37,632.00 L143.41,632.00 L143.46,632.00 L143.51,632.00 L143.56,632.00 L143.61,632.00 L143.65,632.00 L143.70,632.00 L143.75,632.00 L143.80,632.00 L143.85,632.00 L143.90,632.00 L143.95,632.00 L144.00,632.00 L144.05,632.00 L144.10,632.00 L144.16,632.00 L144.21,632.00 L144.26,632.00 L144.31,632.00 L144.36,632.00 L144.42,632.00 L144.47,632.00 L144.52,632.00 L144.58,632.00 L144.63,632.00 L144.69,632.00 L144.74,632.00 L144.80,632.00 L144.85,632.00 L144.91,632.00 L144.97,632.00 L145.02,632.00 L145.08,632.00 L145.14,632.00 L145.20,632.00 L145.25,632.00 L145.31,632.00 L145.37,632.00 L145.43,632.00 L145.49,632.00 L145.55,632.00 L145.61,632.00 L145.67,632.00 L145.73,632.00 L145.80,632.00 L145.86,632.00 L145.92,632.00 L145.98,632.00 L146.05,632.00 L146.11,632.00 L146.18,632.00 L146.24,632.00 L146.31,632.00 L146.37,632.00 L146.44,632.00 L146.50,632.00 L146.57,632.00 L146.64,632.00 L146.71,632.00 L146.77,632.00 L146.84,632.00 L146.91,632.00 L146.98,632.00 L147.05,632.00 L147.12,632.00 L147.19,632.00 L147.27,632.00 L147.34,632.00 L147.41,632.00 L147.48,632.00 L147.56,632.00 L147.63,632.00 L147.71,632.00 L147.78,632.00 L147.86,632.00 L147.94,632.00 L148.01,632.00 L148.09,632.00 L148.17,632.00 L148.25,632.00 L148.33,632.00 L148.41,632.00 L148.49,632.00 L148.57,632.00 L148.65,632.00 L148.73,632.00 L148.82,632.00 L148.90,632.00 L148.98,632.00 L149.07,632.00 L149.16,632.00 L149.24,632.00 L149.33,632.00 L149.42,632.00 L149.50,632.00 L149.59,631.99 L149.68,631.99 L149.77,631.99 L149.87,631.99 L149.96,631.99 L150.05,631.99 L150.14,631.99 L150.24,631.99 L150.33,631.99 L150.43,631.99 L150.53,631.99 L150.62,631.99 L150.72,631.99 L150.82,631.99 L150.92,631.99 L151.02,631.99 L151.12,631.99 L151.22,631.98 L151.33,631.98 L151.43,631.98 L151.54,631.98 L151.64,631.98 L151.75,631.98 L151.86,631.98 L151.96,631.98 L152.07,631.97 L152.18,631.97 L152.30,631.97 L152.41,631.97 L152.52,631.97 L152.64,631.97 L152.75,631.96 L152.87,631.96 L152.98,631.96 L153.10,631.95 L153.22,631.95 L153.34,631.95 L153.46,631.95 L153.59,631.94 L153.71,631.94 L153.83,631.93 L153.96,631.93 L154.09,631.93 L154.22,631.92 L154.34,631.92 L154.47,631.91 L154.61,631.90 L154.74,631.90 L154.87,631.89 L155.01,631.88 L155.14,631.88 L155.28,631.87 L155.42,631.86 L155.56,631.85 L155.70,631.84 L155.84,631.83 L155.99,631.82 L156.13,631.81 L156.28,631.79 L156.43,631.78 L156.58,631.77 L156.73,631.75 L156.88,631.73 L157.03,631.72 L157.18,631.70 L157.34,631.68 L157.50,631.66 L157.65,631.63 L157.81,631.61 L157.97,631.58 L158.14,631.56 L158.30,631.53 L158.46,631.50 L158.63,631.46 L158.80,631.43 L158.96,631.39 L159.13,631.35 L159.30,631.31 L159.47,631.26 L159.65,631.22 L159.82,631.17 L159.99,631.11 L160.17,631.05 L160.35,630.99 L160.52,630.92 L160.70,630.85 L160.88,630.78 L161.06,630.70 L161.24,630.61 L161.42,630.52 L161.60,630.43 L161.78,630.32 L161.96,630.21 L162.14,630.10 L162.32,629.97 L162.50,629.84 L162.68,629.70 L162.86,629.54 L163.04,629.38 L163.21,629.21 L163.39,629.03 L163.56,628.83 L163.73,628.63 L163.90,628.41 L164.07,628.17 L164.23,627.92 L164.39,627.65 L164.55,627.37 L164.70,627.06 L164.84,626.74 L164.84,626.74 L164.89,626.63 L164.93,626.53 L164.98,626.42 L165.02,626.32 L165.06,626.21 L165.09,626.11 L165.13,626.00 L165.17,625.90 L165.20,625.79 L165.24,625.69 L165.27,625.58 L165.30,625.47 L165.33,625.37 L165.36,625.26 L165.39,625.16 L165.42,625.05 L165.45,624.95 L165.47,624.84 L165.50,624.74 L165.52,624.63 L165.55,624.53 L165.57,624.42 L165.59,624.31 L165.61,624.21 L165.63,624.10 L165.65,624.00 L165.67,623.89 L165.69,623.79 L165.71,623.68 L165.73,623.58 L165.74,623.47 L165.76,623.37 L165.78,623.26 L165.79,623.15 L165.80,623.05 L165.82,622.94 L165.83,622.84 L165.84,622.73 L165.86,622.63 L165.87,622.52 L165.88,622.42 L165.89,622.31 L165.90,622.21 L165.91,622.10 L165.92,621.99 L165.93,621.89 L165.94,621.78 L165.94,621.68 L165.95,621.57 L165.96,621.47 L165.96,621.36 L165.97,621.26 L165.98,621.15 L165.98,621.04 L165.99,620.94 L165.99,620.83 L166.00,620.73 L166.00,620.62 L166.00,620.52 L166.01,620.41 L166.01,620.31 L166.01,620.20 L166.01,620.10 L166.01,619.99 L166.01,619.88 L166.02,619.78 L166.02,619.67 L166.02,619.57 L166.02,582.77" fill="none" stroke="#f39a1f" stroke-width="1.6" stroke-linejoin="round" stroke-linecap="butt" />
<path d="M161.98,590.04 L161.98,589.93 L161.99,589.83 L161.99,589.72 L161.99,589.62 L161.99,589.51 L162.00,589.41 L162.00,589.30 L162.01,589.19 L162.01,589.09 L162.02,588.98 L162.03,588.88 L162.04,588.77 L162.05,588.67 L162.06,588.56 L162.07,588.46 L162.08,588.35 L162.09,588.25 L162.11,588.14 L162.12,588.03 L162.14,587.93 L162.15,587.82 L162.17,587.72 L162.19,587.61 L162.21,587.51 L162.23,587.40 L162.26,587.30 L162.28,587.19 L162.31,587.09 L162.34,586.98 L162.37,586.87 L162.40,586.77 L162.43,586.66 L162.46,586.56 L162.50,586.45 L162.54,586.35 L162.57,586.24 L162.62,586.14 L162.66,586.03 L162.70,585.93 L162.75,585.82 L162.80,585.71 L162.86,585.61 L162.91,585.50 L162.97,585.40 L163.03,585.29 L163.09,585.19 L163.16,585.08 L163.23,584.98 L163.30,584.87 L163.38,584.77 L163.46,584.66 L163.46,584.66 L163.73,584.34 L164.03,584.03 L164.35,583.75 L164.69,583.48 L165.06,583.23 L165.45,582.99 L165.86,582.77 L166.30,582.57 L166.77,582.37 L167.26,582.19 L167.77,582.02 L168.32,581.86 L168.89,581.70 L169.49,581.56 L170.13,581.43 L170.79,581.30 L171.49,581.19 L172.22,581.08 L172.98,580.97 L173.78,580.88 L174.62,580.79 L175.51,580.70 L176.43,580.62 L177.40,580.55 L178.42,580.48 L179.49,580.41 L180.61,580.35 L181.79,580.29 L183.03,580.23 L184.34,580.18 L185.71,580.14 L187.16,580.09 L188.70,580.05 L190.32,580.01 L192.03,579.97 L193.85,579.94 L195.77,579.90 L197.82,579.87 L200.00,579.84 L202.33,579.82 L204.81,579.79 L207.47,579.77 L210.32,579.74 L212.72,579.40" fill="none" stroke="#f39a1f" stroke-width="1.6" stroke-linejoin="round" stroke-linecap="butt" />
<line x1="161.98" y1="590.10" x2="161.98" y2="630.21" stroke="#f39a1f" stroke-width="1.6" />
<line x1="127.00" y1="571.60" x2="212.72" y2="571.60" stroke="#1e1e1e" stroke-width="1.25" />
<line x1="212.72" y1="571.60" x2="212.72" y2="640.20" stroke="#1e1e1e" stroke-width="1.25" />
<line x1="127.00" y1="571.60" x2="127.00" y2="640.20" stroke="#1e1e1e" stroke-width="1.25" />
<line x1="127.00" y1="640.20" x2="212.72" y2="640.20" stroke="#1e1e1e" stroke-width="1.25" />
<line x1="122.00" y1="632.00" x2="127.00" y2="632.00" stroke="#1e1e1e" stroke-width="1.25" />
<line x1="122.00" y1="579.40" x2="127.00" y2="579.40" stroke="#1e1e1e" stroke-width="1.25" />
<line x1="127.00" y1="640.20" x2="127.00" y2="644.80" stroke="#1e1e1e" stroke-width="1.25" />
<text x="127.00" y="656.90" font-size="9.9" text-anchor="middle" fill="#1a1a1a" stroke="#1a1a1a" stroke-width="0.2"  letter-spacing="-0.25">0</text>
<line x1="149.86" y1="640.20" x2="149.86" y2="644.80" stroke="#1e1e1e" stroke-width="1.25" />
<text x="149.86" y="656.90" font-size="9.9" text-anchor="middle" fill="#1a1a1a" stroke="#1a1a1a" stroke-width="0.2"  letter-spacing="-0.25">200</text>
<line x1="172.72" y1="640.20" x2="172.72" y2="644.80" stroke="#1e1e1e" stroke-width="1.25" />
<text x="172.72" y="656.90" font-size="9.9" text-anchor="middle" fill="#1a1a1a" stroke="#1a1a1a" stroke-width="0.2"  letter-spacing="-0.25">400</text>
<line x1="195.58" y1="640.20" x2="195.58" y2="644.80" stroke="#1e1e1e" stroke-width="1.25" />
<text x="195.58" y="656.90" font-size="9.9" text-anchor="middle" fill="#1a1a1a" stroke="#1a1a1a" stroke-width="0.2"  letter-spacing="-0.25">600</text>
<text x="170.00" y="668.40" font-size="9.9" text-anchor="middle" fill="#1a1a1a" stroke="#1a1a1a" stroke-width="0.2"  letter-spacing="-0.25"><tspan font-style="italic">T</tspan> (K)</text>
<text x="123.60" y="554.40" font-size="8.4" text-anchor="start" fill="#1a1a1a" stroke="#1a1a1a" stroke-width="0.2" >(v)</text>
<text x="130.40" y="564.90" font-size="9.9" text-anchor="start" fill="#1a1a1a" stroke="#1a1a1a" stroke-width="0.2"  letter-spacing="-0.25">γ<tspan font-size="6.5" dy="1.8">0</tspan><tspan dy="-1.8">/4 = 7.85 kJ mol</tspan><tspan font-size="6" dy="-3.6">−1</tspan></text>
<text x="170.00" y="682.00" font-size="9.9" text-anchor="middle" fill="#1a1a1a" stroke="#1a1a1a" stroke-width="0.2" letter-spacing="0.05" word-spacing="0.6">Δ<tspan font-style="italic">T</tspan> = 36 K</text>
<path d="M228.30,632.00 L239.87,632.00 L239.89,632.00 L239.91,632.00 L239.94,632.00 L239.96,632.00 L239.98,632.00 L240.00,632.00 L240.02,632.00 L240.04,632.00 L240.07,632.00 L240.09,632.00 L240.11,632.00 L240.13,632.00 L240.16,632.00 L240.18,632.00 L240.20,632.00 L240.22,632.00 L240.25,632.00 L240.27,632.00 L240.29,632.00 L240.31,632.00 L240.34,632.00 L240.36,632.00 L240.38,632.00 L240.41,632.00 L240.43,632.00 L240.45,632.00 L240.48,632.00 L240.50,632.00 L240.52,632.00 L240.55,632.00 L240.57,632.00 L240.60,632.00 L240.62,632.00 L240.64,632.00 L240.67,632.00 L240.69,632.00 L240.72,632.00 L240.74,632.00 L240.77,632.00 L240.79,632.00 L240.82,632.00 L240.84,632.00 L240.87,632.00 L240.89,632.00 L240.92,632.00 L240.94,632.00 L240.97,632.00 L240.99,632.00 L241.02,632.00 L241.05,632.00 L241.07,632.00 L241.10,632.00 L241.12,632.00 L241.15,632.00 L241.18,632.00 L241.20,632.00 L241.23,632.00 L241.26,632.00 L241.28,632.00 L241.31,632.00 L241.34,632.00 L241.36,632.00 L241.39,632.00 L241.42,632.00 L241.45,632.00 L241.47,632.00 L241.50,632.00 L241.53,632.00 L241.56,632.00 L241.59,632.00 L241.61,632.00 L241.64,632.00 L241.67,632.00 L241.70,632.00 L241.73,632.00 L241.76,632.00 L241.79,632.00 L241.81,632.00 L241.84,632.00 L241.87,632.00 L241.90,632.00 L241.93,632.00 L241.96,632.00 L241.99,632.00 L242.02,632.00 L242.05,632.00 L242.08,632.00 L242.11,632.00 L242.14,632.00 L242.17,632.00 L242.20,632.00 L242.23,632.00 L242.27,632.00 L242.30,632.00 L242.33,632.00 L242.36,632.00 L242.39,632.00 L242.42,632.00 L242.45,632.00 L242.49,632.00 L242.52,632.00 L242.55,632.00 L242.58,632.00 L242.62,632.00 L242.65,632.00 L242.68,632.00 L242.72,632.00 L242.75,632.00 L242.78,632.00 L242.82,632.00 L242.85,632.00 L242.88,632.00 L242.92,632.00 L242.95,632.00 L242.98,632.00 L243.02,632.00 L243.05,632.00 L243.09,632.00 L243.12,632.00 L243.16,632.00 L243.19,632.00 L243.23,632.00 L243.27,632.00 L243.30,632.00 L243.34,632.00 L243.37,632.00 L243.41,632.00 L243.45,632.00 L243.48,632.00 L243.52,632.00 L243.56,632.00 L243.59,632.00 L243.63,632.00 L243.67,632.00 L243.71,632.00 L243.74,632.00 L243.78,632.00 L243.82,632.00 L243.86,632.00 L243.90,632.00 L243.94,632.00 L243.98,632.00 L244.01,632.00 L244.05,632.00 L244.09,632.00 L244.13,632.00 L244.17,632.00 L244.21,632.00 L244.25,632.00 L244.29,632.00 L244.34,632.00 L244.38,632.00 L244.42,632.00 L244.46,632.00 L244.50,632.00 L244.54,632.00 L244.59,632.00 L244.63,632.00 L244.67,632.00 L244.71,632.00 L244.76,632.00 L244.80,632.00 L244.84,632.00 L244.89,632.00 L244.93,632.00 L244.98,632.00 L245.02,632.00 L245.06,632.00 L245.11,632.00 L245.15,632.00 L245.20,632.00 L245.25,632.00 L245.29,632.00 L245.34,632.00 L245.38,632.00 L245.43,632.00 L245.48,632.00 L245.52,632.00 L245.57,632.00 L245.62,632.00 L245.67,632.00 L245.72,632.00 L245.76,632.00 L245.81,632.00 L245.86,632.00 L245.91,632.00 L245.96,632.00 L246.01,632.00 L246.06,632.00 L246.11,632.00 L246.16,632.00 L246.21,632.00 L246.26,632.00 L246.32,632.00 L246.37,632.00 L246.42,632.00 L246.47,632.00 L246.52,632.00 L246.58,632.00 L246.63,632.00 L246.68,632.00 L246.74,632.00 L246.79,632.00 L246.85,632.00 L246.90,632.00 L246.96,632.00 L247.01,632.00 L247.07,632.00 L247.13,632.00 L247.18,632.00 L247.24,632.00 L247.30,632.00 L247.35,632.00 L247.41,632.00 L247.47,632.00 L247.53,632.00 L247.59,632.00 L247.65,632.00 L247.71,632.00 L247.77,632.00 L247.83,632.00 L247.89,632.00 L247.95,632.00 L248.01,632.00 L248.08,632.00 L248.14,632.00 L248.20,632.00 L248.26,632.00 L248.33,632.00 L248.39,632.00 L248.46,632.00 L248.52,632.00 L248.59,632.00 L248.65,632.00 L248.72,632.00 L248.79,632.00 L248.85,632.00 L248.92,632.00 L248.99,632.00 L249.06,632.00 L249.13,632.00 L249.19,632.00 L249.26,632.00 L249.33,632.00 L249.41,632.00 L249.48,632.00 L249.55,632.00 L249.62,632.00 L249.69,632.00 L249.77,632.00 L249.84,632.00 L249.91,632.00 L249.99,632.00 L250.06,632.00 L250.14,632.00 L250.22,632.00 L250.29,632.00 L250.37,632.00 L250.45,632.00 L250.53,632.00 L250.61,632.00 L250.69,632.00 L250.77,632.00 L250.85,632.00 L250.93,632.00 L251.01,632.00 L251.09,632.00 L251.17,632.00 L251.26,632.00 L251.34,632.00 L251.43,632.00 L251.51,632.00 L251.60,632.00 L251.69,632.00 L251.77,632.00 L251.86,632.00 L251.95,632.00 L252.04,632.00 L252.13,632.00 L252.22,632.00 L252.31,632.00 L252.40,632.00 L252.50,632.00 L252.59,632.00 L252.69,632.00 L252.78,632.00 L252.88,632.00 L252.97,632.00 L253.07,632.00 L253.17,631.99 L253.27,631.99 L253.37,631.99 L253.47,631.99 L253.57,631.99 L253.67,631.99 L253.77,631.99 L253.88,631.99 L253.98,631.99 L254.09,631.99 L254.19,631.99 L254.30,631.99 L254.41,631.99 L254.52,631.99 L254.63,631.99 L254.74,631.99 L254.85,631.99 L254.96,631.98 L255.07,631.98 L255.19,631.98 L255.30,631.98 L255.42,631.98 L255.54,631.98 L255.66,631.98 L255.78,631.98 L255.90,631.97 L256.02,631.97 L256.14,631.97 L256.26,631.97 L256.39,631.97 L256.51,631.97 L256.64,631.96 L256.77,631.96 L256.90,631.96 L257.03,631.95 L257.16,631.95 L257.29,631.95 L257.42,631.95 L257.56,631.94 L257.69,631.94 L257.83,631.93 L257.97,631.93 L258.11,631.93 L258.25,631.92 L258.39,631.92 L258.53,631.91 L258.68,631.90 L258.82,631.90 L258.97,631.89 L259.12,631.88 L259.27,631.88 L259.42,631.87 L259.57,631.86 L259.72,631.85 L259.88,631.84 L260.03,631.83 L260.19,631.82 L260.35,631.81 L260.51,631.79 L260.67,631.78 L260.83,631.77 L261.00,631.75 L261.16,631.73 L261.33,631.72 L261.50,631.70 L261.67,631.68 L261.84,631.66 L262.01,631.63 L262.18,631.61 L262.36,631.58 L262.53,631.56 L262.71,631.53 L262.89,631.50 L263.07,631.46 L263.25,631.43 L263.43,631.39 L263.61,631.35 L263.79,631.31 L263.98,631.26 L264.16,631.22 L264.35,631.17 L264.54,631.11 L264.72,631.05 L264.91,630.99 L265.10,630.92 L265.29,630.85 L265.48,630.78 L265.67,630.70 L265.85,630.61 L266.04,630.52 L266.23,630.43 L266.42,630.32 L266.61,630.21 L266.79,630.10 L266.98,629.97 L267.16,629.84 L267.34,629.70 L267.52,629.54 L267.70,629.38 L267.88,629.21 L268.05,629.03 L268.22,628.83 L268.38,628.63 L268.54,628.41 L268.70,628.17 L268.85,627.92 L268.99,627.65 L269.13,627.37 L269.26,627.06 L269.39,626.74 L269.39,626.74 L269.42,626.63 L269.46,626.53 L269.49,626.42 L269.52,626.32 L269.55,626.21 L269.58,626.11 L269.61,626.00 L269.64,625.90 L269.66,625.79 L269.69,625.69 L269.71,625.58 L269.73,625.47 L269.75,625.37 L269.77,625.26 L269.79,625.16 L269.81,625.05 L269.82,624.95 L269.84,624.84 L269.85,624.74 L269.87,624.63 L269.88,624.53 L269.89,624.42 L269.90,624.31 L269.91,624.21 L269.92,624.10 L269.93,624.00 L269.94,623.89 L269.94,623.79 L269.95,623.68 L269.96,623.58 L269.96,623.47 L269.96,623.37 L269.97,623.26 L269.97,623.15 L269.97,623.05 L269.97,622.94 L269.97,622.84 L269.97,580.29" fill="none" stroke="#e3141e" stroke-width="1.6" stroke-linejoin="round" stroke-linecap="butt" />
<path d="M258.34,585.50 L258.34,585.40 L258.35,585.29 L258.35,585.19 L258.36,585.08 L258.37,584.98 L258.39,584.87 L258.40,584.77 L258.42,584.66 L258.42,584.66 L258.50,584.34 L258.60,584.03 L258.72,583.75 L258.87,583.48 L259.03,583.23 L259.23,582.99 L259.44,582.77 L259.68,582.57 L259.95,582.37 L260.23,582.19 L260.54,582.02 L260.88,581.86 L261.24,581.70 L261.62,581.56 L262.04,581.43 L262.47,581.30 L262.94,581.19 L263.43,581.08 L263.96,580.97 L264.51,580.88 L265.09,580.79 L265.71,580.70 L266.36,580.62 L267.05,580.55 L267.78,580.48 L268.55,580.41 L269.35,580.35 L270.21,580.29 L271.11,580.23 L272.06,580.18 L273.07,580.14 L274.13,580.09 L275.26,580.05 L276.45,580.01 L277.71,579.97 L279.06,579.94 L280.48,579.90 L282.00,579.87 L283.62,579.84 L285.35,579.82 L287.20,579.79 L289.18,579.77 L291.31,579.74 L293.60,579.72 L296.07,579.70 L298.75,579.68 L301.65,579.67 L304.82,579.65 L308.27,579.63 L312.07,579.62 L314.02,579.40" fill="none" stroke="#e3141e" stroke-width="1.6" stroke-linejoin="round" stroke-linecap="butt" />
<line x1="258.34" y1="585.60" x2="258.34" y2="631.92" stroke="#e3141e" stroke-width="1.6" />
<line x1="228.30" y1="571.60" x2="314.02" y2="571.60" stroke="#1e1e1e" stroke-width="1.25" />
<line x1="314.02" y1="571.60" x2="314.02" y2="640.20" stroke="#1e1e1e" stroke-width="1.25" />
<line x1="228.30" y1="571.60" x2="228.30" y2="640.20" stroke="#1e1e1e" stroke-width="1.25" />
<line x1="228.30" y1="640.20" x2="314.02" y2="640.20" stroke="#1e1e1e" stroke-width="1.25" />
<line x1="223.30" y1="632.00" x2="228.30" y2="632.00" stroke="#1e1e1e" stroke-width="1.25" />
<line x1="223.30" y1="579.40" x2="228.30" y2="579.40" stroke="#1e1e1e" stroke-width="1.25" />
<line x1="228.30" y1="640.20" x2="228.30" y2="644.80" stroke="#1e1e1e" stroke-width="1.25" />
<text x="228.30" y="656.90" font-size="9.9" text-anchor="middle" fill="#1a1a1a" stroke="#1a1a1a" stroke-width="0.2"  letter-spacing="-0.25">0</text>
<line x1="251.16" y1="640.20" x2="251.16" y2="644.80" stroke="#1e1e1e" stroke-width="1.25" />
<text x="251.16" y="656.90" font-size="9.9" text-anchor="middle" fill="#1a1a1a" stroke="#1a1a1a" stroke-width="0.2"  letter-spacing="-0.25">200</text>
<line x1="274.02" y1="640.20" x2="274.02" y2="644.80" stroke="#1e1e1e" stroke-width="1.25" />
<text x="274.02" y="656.90" font-size="9.9" text-anchor="middle" fill="#1a1a1a" stroke="#1a1a1a" stroke-width="0.2"  letter-spacing="-0.25">400</text>
<line x1="296.88" y1="640.20" x2="296.88" y2="644.80" stroke="#1e1e1e" stroke-width="1.25" />
<text x="296.88" y="656.90" font-size="9.9" text-anchor="middle" fill="#1a1a1a" stroke="#1a1a1a" stroke-width="0.2"  letter-spacing="-0.25">600</text>
<text x="271.30" y="668.40" font-size="9.9" text-anchor="middle" fill="#1a1a1a" stroke="#1a1a1a" stroke-width="0.2"  letter-spacing="-0.25"><tspan font-style="italic">T</tspan> (K)</text>
<text x="223.60" y="554.40" font-size="8.4" text-anchor="start" fill="#1a1a1a" stroke="#1a1a1a" stroke-width="0.2" >(vi)</text>
<text x="231.60" y="564.90" font-size="9.9" text-anchor="start" fill="#1a1a1a" stroke="#1a1a1a" stroke-width="0.2"  letter-spacing="-0.25">γ<tspan font-size="6.5" dy="1.8">0</tspan><tspan dy="-1.8">/3 = 10.5 kJ mol</tspan><tspan font-size="6" dy="-3.6">−1</tspan></text>
<text x="271.30" y="682.00" font-size="9.9" text-anchor="middle" fill="#1a1a1a" stroke="#1a1a1a" stroke-width="0.2" letter-spacing="0.05" word-spacing="0.6">Δ<tspan font-style="italic">T</tspan> = 101 K</text>
<path d="M329.60,632.00 L344.19,632.00 L344.22,632.00 L344.24,632.00 L344.27,632.00 L344.30,632.00 L344.33,632.00 L344.35,632.00 L344.38,632.00 L344.41,632.00 L344.44,632.00 L344.46,632.00 L344.49,632.00 L344.52,632.00 L344.55,632.00 L344.58,632.00 L344.61,632.00 L344.63,632.00 L344.66,632.00 L344.69,632.00 L344.72,632.00 L344.75,632.00 L344.78,632.00 L344.81,632.00 L344.84,632.00 L344.87,632.00 L344.90,632.00 L344.93,632.00 L344.96,632.00 L344.99,632.00 L345.02,632.00 L345.05,632.00 L345.08,632.00 L345.11,632.00 L345.14,632.00 L345.17,632.00 L345.20,632.00 L345.23,632.00 L345.26,632.00 L345.29,632.00 L345.32,632.00 L345.35,632.00 L345.38,632.00 L345.42,632.00 L345.45,632.00 L345.48,632.00 L345.51,632.00 L345.54,632.00 L345.58,632.00 L345.61,632.00 L345.64,632.00 L345.67,632.00 L345.71,632.00 L345.74,632.00 L345.77,632.00 L345.80,632.00 L345.84,632.00 L345.87,632.00 L345.90,632.00 L345.94,632.00 L345.97,632.00 L346.01,632.00 L346.04,632.00 L346.07,632.00 L346.11,632.00 L346.14,632.00 L346.18,632.00 L346.21,632.00 L346.25,632.00 L346.28,632.00 L346.32,632.00 L346.35,632.00 L346.39,632.00 L346.42,632.00 L346.46,632.00 L346.50,632.00 L346.53,632.00 L346.57,632.00 L346.61,632.00 L346.64,632.00 L346.68,632.00 L346.72,632.00 L346.75,632.00 L346.79,632.00 L346.83,632.00 L346.86,632.00 L346.90,632.00 L346.94,632.00 L346.98,632.00 L347.02,632.00 L347.06,632.00 L347.09,632.00 L347.13,632.00 L347.17,632.00 L347.21,632.00 L347.25,632.00 L347.29,632.00 L347.33,632.00 L347.37,632.00 L347.41,632.00 L347.45,632.00 L347.49,632.00 L347.53,632.00 L347.57,632.00 L347.61,632.00 L347.65,632.00 L347.69,632.00 L347.74,632.00 L347.78,632.00 L347.82,632.00 L347.86,632.00 L347.90,632.00 L347.95,632.00 L347.99,632.00 L348.03,632.00 L348.07,632.00 L348.12,632.00 L348.16,632.00 L348.20,632.00 L348.25,632.00 L348.29,632.00 L348.34,632.00 L348.38,632.00 L348.43,632.00 L348.47,632.00 L348.52,632.00 L348.56,632.00 L348.61,632.00 L348.65,632.00 L348.70,632.00 L348.74,632.00 L348.79,632.00 L348.84,632.00 L348.88,632.00 L348.93,632.00 L348.98,632.00 L349.03,632.00 L349.07,632.00 L349.12,632.00 L349.17,632.00 L349.22,632.00 L349.27,632.00 L349.32,632.00 L349.37,632.00 L349.42,632.00 L349.47,632.00 L349.52,632.00 L349.57,632.00 L349.62,632.00 L349.67,632.00 L349.72,632.00 L349.77,632.00 L349.82,632.00 L349.87,632.00 L349.92,632.00 L349.98,632.00 L350.03,632.00 L350.08,632.00 L350.14,632.00 L350.19,632.00 L350.24,632.00 L350.30,632.00 L350.35,632.00 L350.41,632.00 L350.46,632.00 L350.52,632.00 L350.57,632.00 L350.63,632.00 L350.68,632.00 L350.74,632.00 L350.80,632.00 L350.85,632.00 L350.91,632.00 L350.97,632.00 L351.03,632.00 L351.08,632.00 L351.14,632.00 L351.20,632.00 L351.26,632.00 L351.32,632.00 L351.38,632.00 L351.44,632.00 L351.50,632.00 L351.56,632.00 L351.62,632.00 L351.68,632.00 L351.74,632.00 L351.81,632.00 L351.87,632.00 L351.93,632.00 L352.00,632.00 L352.06,632.00 L352.12,632.00 L352.19,632.00 L352.25,632.00 L352.32,632.00 L352.38,632.00 L352.45,632.00 L352.51,632.00 L352.58,632.00 L352.65,632.00 L352.72,632.00 L352.78,632.00 L352.85,632.00 L352.92,632.00 L352.99,632.00 L353.06,632.00 L353.13,632.00 L353.20,632.00 L353.27,632.00 L353.34,632.00 L353.41,632.00 L353.48,632.00 L353.56,632.00 L353.63,632.00 L353.70,632.00 L353.77,632.00 L353.85,632.00 L353.92,632.00 L354.00,632.00 L354.07,632.00 L354.15,632.00 L354.23,632.00 L354.30,632.00 L354.38,632.00 L354.46,632.00 L354.54,632.00 L354.62,632.00 L354.69,632.00 L354.77,632.00 L354.85,632.00 L354.94,632.00 L355.02,632.00 L355.10,632.00 L355.18,632.00 L355.26,632.00 L355.35,632.00 L355.43,632.00 L355.52,632.00 L355.60,632.00 L355.69,632.00 L355.77,632.00 L355.86,632.00 L355.95,632.00 L356.04,632.00 L356.12,632.00 L356.21,632.00 L356.30,632.00 L356.39,632.00 L356.48,632.00 L356.58,632.00 L356.67,632.00 L356.76,632.00 L356.86,632.00 L356.95,632.00 L357.04,632.00 L357.14,632.00 L357.24,632.00 L357.33,632.00 L357.43,632.00 L357.53,632.00 L357.63,632.00 L357.73,632.00 L357.83,632.00 L357.93,632.00 L358.03,632.00 L358.13,632.00 L358.24,632.00 L358.34,632.00 L358.44,632.00 L358.55,632.00 L358.66,632.00 L358.76,632.00 L358.87,632.00 L358.98,632.00 L359.09,632.00 L359.20,632.00 L359.31,632.00 L359.42,632.00 L359.54,632.00 L359.65,632.00 L359.76,632.00 L359.88,632.00 L359.99,632.00 L360.11,632.00 L360.23,632.00 L360.35,632.00 L360.47,632.00 L360.59,632.00 L360.71,632.00 L360.83,632.00 L360.96,631.99 L361.08,631.99 L361.21,631.99 L361.33,631.99 L361.46,631.99 L361.59,631.99 L361.72,631.99 L361.85,631.99 L361.98,631.99 L362.12,631.99 L362.25,631.99 L362.38,631.99 L362.52,631.99 L362.66,631.99 L362.80,631.99 L362.93,631.99 L363.08,631.99 L363.22,631.98 L363.36,631.98 L363.50,631.98 L363.65,631.98 L363.80,631.98 L363.94,631.98 L364.09,631.98 L364.24,631.98 L364.39,631.97 L364.55,631.97 L364.70,631.97 L364.86,631.97 L365.01,631.97 L365.17,631.97 L365.33,631.96 L365.49,631.96 L365.65,631.96 L365.82,631.95 L365.98,631.95 L366.15,631.95 L366.32,631.95 L366.49,631.94 L366.66,631.94 L366.83,631.93 L367.00,631.93 L367.18,631.93 L367.35,631.92 L367.53,631.92 L367.71,631.91 L367.89,631.90 L368.08,631.90 L368.26,631.89 L368.44,631.88 L368.63,631.88 L368.82,631.87 L369.01,631.86 L369.20,631.85 L369.40,631.84 L369.59,631.83 L369.79,631.82 L369.99,631.81 L370.19,631.79 L370.39,631.78 L370.59,631.77 L370.79,631.75 L371.00,631.73 L371.21,631.72 L371.42,631.70 L371.63,631.68 L371.84,631.66 L372.05,631.63 L372.26,631.61 L372.48,631.58 L372.70,631.56 L372.91,631.53 L373.13,631.50 L373.35,631.46 L373.57,631.43 L373.80,631.39 L374.02,631.35 L374.24,631.31 L374.47,631.26 L374.69,631.22 L374.92,631.17 L375.14,631.11 L375.37,631.05 L375.59,630.99 L375.82,630.92 L376.04,630.85 L376.26,630.78 L376.49,630.70 L376.71,630.61 L376.93,630.52 L377.15,630.43 L377.36,630.32 L377.58,630.21 L377.79,630.10 L378.00,629.97 L378.20,629.84 L378.40,629.70 L378.60,629.54 L378.79,629.38 L378.97,629.21 L379.15,629.03 L379.32,628.83 L379.48,628.63 L379.64,628.41 L379.78,628.17 L379.92,627.92 L380.04,627.65 L380.15,627.37 L380.24,627.06 L380.32,626.74 L380.32,626.74 L380.35,626.63 L380.37,626.53 L380.38,626.42 L380.40,626.32 L380.41,626.21 L380.42,626.11 L380.44,626.00 L380.44,625.90 L380.45,625.79 L380.46,625.69 L380.46,625.58 L380.46,625.47 L380.46,625.37 L380.46,579.53" fill="none" stroke="#1c86cf" stroke-width="1.6" stroke-linejoin="round" stroke-linecap="butt" />
<path d="M345.96,581.30 L345.98,581.19 L346.01,581.08 L346.06,580.97 L346.13,580.88 L346.22,580.79 L346.33,580.70 L346.45,580.62 L346.60,580.55 L346.76,580.48 L346.95,580.41 L347.16,580.35 L347.38,580.29 L347.63,580.23 L347.91,580.18 L348.20,580.14 L348.53,580.09 L348.88,580.05 L349.26,580.01 L349.67,579.97 L350.11,579.94 L350.58,579.90 L351.10,579.87 L351.65,579.84 L352.25,579.82 L352.90,579.79 L353.59,579.77 L354.35,579.74 L355.17,579.72 L356.05,579.70 L357.02,579.68 L358.07,579.67 L359.23,579.65 L360.49,579.63 L361.88,579.62 L363.42,579.61 L365.13,579.59 L367.04,579.58 L369.18,579.57 L371.60,579.56 L374.35,579.55 L377.50,579.54 L381.15,579.53 L385.43,579.52 L390.50,579.52 L396.62,579.51 L404.14,579.50 L413.59,579.50 L415.14,579.40" fill="none" stroke="#1c86cf" stroke-width="1.6" stroke-linejoin="round" stroke-linecap="butt" />
<line x1="345.96" y1="581.34" x2="345.96" y2="632.00" stroke="#1c86cf" stroke-width="1.6" />
<line x1="329.60" y1="571.60" x2="415.14" y2="571.60" stroke="#1e1e1e" stroke-width="1.25" />
<line x1="415.14" y1="571.60" x2="415.14" y2="640.20" stroke="#1e1e1e" stroke-width="1.25" />
<line x1="329.60" y1="571.60" x2="329.60" y2="640.20" stroke="#1e1e1e" stroke-width="1.25" />
<line x1="329.60" y1="640.20" x2="415.14" y2="640.20" stroke="#1e1e1e" stroke-width="1.25" />
<line x1="324.60" y1="632.00" x2="329.60" y2="632.00" stroke="#1e1e1e" stroke-width="1.25" />
<line x1="324.60" y1="579.40" x2="329.60" y2="579.40" stroke="#1e1e1e" stroke-width="1.25" />
<line x1="329.60" y1="640.20" x2="329.60" y2="644.80" stroke="#1e1e1e" stroke-width="1.25" />
<text x="329.60" y="656.90" font-size="9.9" text-anchor="middle" fill="#1a1a1a" stroke="#1a1a1a" stroke-width="0.2"  letter-spacing="-0.25">0</text>
<line x1="354.04" y1="640.20" x2="354.04" y2="644.80" stroke="#1e1e1e" stroke-width="1.25" />
<text x="354.04" y="656.90" font-size="9.9" text-anchor="middle" fill="#1a1a1a" stroke="#1a1a1a" stroke-width="0.2"  letter-spacing="-0.25">200</text>
<line x1="378.48" y1="640.20" x2="378.48" y2="644.80" stroke="#1e1e1e" stroke-width="1.25" />
<text x="378.48" y="656.90" font-size="9.9" text-anchor="middle" fill="#1a1a1a" stroke="#1a1a1a" stroke-width="0.2"  letter-spacing="-0.25">400</text>
<line x1="402.92" y1="640.20" x2="402.92" y2="644.80" stroke="#1e1e1e" stroke-width="1.25" />
<text x="402.92" y="656.90" font-size="9.9" text-anchor="middle" fill="#1a1a1a" stroke="#1a1a1a" stroke-width="0.2"  letter-spacing="-0.25">600</text>
<line x1="341.82" y1="640.20" x2="341.82" y2="643.80" stroke="#1e1e1e" stroke-width="1.25" />
<line x1="366.26" y1="640.20" x2="366.26" y2="643.80" stroke="#1e1e1e" stroke-width="1.25" />
<line x1="390.70" y1="640.20" x2="390.70" y2="643.80" stroke="#1e1e1e" stroke-width="1.25" />
<text x="372.60" y="668.40" font-size="9.9" text-anchor="middle" fill="#1a1a1a" stroke="#1a1a1a" stroke-width="0.2"  letter-spacing="-0.25"><tspan font-style="italic">T</tspan> (K)</text>
<text x="320.50" y="554.40" font-size="8.4" text-anchor="start" fill="#1a1a1a" stroke="#1a1a1a" stroke-width="0.2" >(vii)</text>
<text x="330.00" y="564.90" font-size="9.9" text-anchor="start" fill="#1a1a1a" stroke="#1a1a1a" stroke-width="0.2"  letter-spacing="-0.25">γ<tspan font-size="6.5" dy="1.8">0</tspan><tspan dy="-1.8">/2 = 15.7 kJ mol</tspan><tspan font-size="6" dy="-3.6">−1</tspan></text>
<text x="372.60" y="682.00" font-size="9.9" text-anchor="middle" fill="#1a1a1a" stroke="#1a1a1a" stroke-width="0.2" letter-spacing="0.05" word-spacing="0.6">Δ<tspan font-style="italic">T</tspan> = 284 K</text>
<path d="M429.70,632.00 L449.62,632.00 L449.65,632.00 L449.69,632.00 L449.73,632.00 L449.77,632.00 L449.80,632.00 L449.84,632.00 L449.88,632.00 L449.92,632.00 L449.95,632.00 L449.99,632.00 L450.03,632.00 L450.07,632.00 L450.11,632.00 L450.14,632.00 L450.18,632.00 L450.22,632.00 L450.26,632.00 L450.30,632.00 L450.34,632.00 L450.38,632.00 L450.42,632.00 L450.46,632.00 L450.50,632.00 L450.54,632.00 L450.58,632.00 L450.62,632.00 L450.66,632.00 L450.70,632.00 L450.74,632.00 L450.78,632.00 L450.82,632.00 L450.87,632.00 L450.91,632.00 L450.95,632.00 L450.99,632.00 L451.03,632.00 L451.08,632.00 L451.12,632.00 L451.16,632.00 L451.20,632.00 L451.25,632.00 L451.29,632.00 L451.33,632.00 L451.38,632.00 L451.42,632.00 L451.46,632.00 L451.51,632.00 L451.55,632.00 L451.60,632.00 L451.64,632.00 L451.68,632.00 L451.73,632.00 L451.77,632.00 L451.82,632.00 L451.87,632.00 L451.91,632.00 L451.96,632.00 L452.00,632.00 L452.05,632.00 L452.09,632.00 L452.14,632.00 L452.19,632.00 L452.23,632.00 L452.28,632.00 L452.33,632.00 L452.38,632.00 L452.42,632.00 L452.47,632.00 L452.52,632.00 L452.57,632.00 L452.62,632.00 L452.67,632.00 L452.72,632.00 L452.76,632.00 L452.81,632.00 L452.86,632.00 L452.91,632.00 L452.96,632.00 L453.01,632.00 L453.06,632.00 L453.11,632.00 L453.17,632.00 L453.22,632.00 L453.27,632.00 L453.32,632.00 L453.37,632.00 L453.42,632.00 L453.47,632.00 L453.53,632.00 L453.58,632.00 L453.63,632.00 L453.69,632.00 L453.74,632.00 L453.79,632.00 L453.85,632.00 L453.90,632.00 L453.96,632.00 L454.01,632.00 L454.06,632.00 L454.12,632.00 L454.18,632.00 L454.23,632.00 L454.29,632.00 L454.34,632.00 L454.40,632.00 L454.46,632.00 L454.51,632.00 L454.57,632.00 L454.63,632.00 L454.68,632.00 L454.74,632.00 L454.80,632.00 L454.86,632.00 L454.92,632.00 L454.98,632.00 L455.04,632.00 L455.10,632.00 L455.16,632.00 L455.22,632.00 L455.28,632.00 L455.34,632.00 L455.40,632.00 L455.46,632.00 L455.52,632.00 L455.58,632.00 L455.65,632.00 L455.71,632.00 L455.77,632.00 L455.83,632.00 L455.90,632.00 L455.96,632.00 L456.02,632.00 L456.09,632.00 L456.15,632.00 L456.22,632.00 L456.28,632.00 L456.35,632.00 L456.42,632.00 L456.48,632.00 L456.55,632.00 L456.61,632.00 L456.68,632.00 L456.75,632.00 L456.82,632.00 L456.89,632.00 L456.95,632.00 L457.02,632.00 L457.09,632.00 L457.16,632.00 L457.23,632.00 L457.30,632.00 L457.37,632.00 L457.44,632.00 L457.52,632.00 L457.59,632.00 L457.66,632.00 L457.73,632.00 L457.81,632.00 L457.88,632.00 L457.95,632.00 L458.03,632.00 L458.10,632.00 L458.18,632.00 L458.25,632.00 L458.33,632.00 L458.40,632.00 L458.48,632.00 L458.56,632.00 L458.63,632.00 L458.71,632.00 L458.79,632.00 L458.87,632.00 L458.95,632.00 L459.03,632.00 L459.11,632.00 L459.19,632.00 L459.27,632.00 L459.35,632.00 L459.43,632.00 L459.51,632.00 L459.59,632.00 L459.68,632.00 L459.76,632.00 L459.84,632.00 L459.93,632.00 L460.01,632.00 L460.10,632.00 L460.18,632.00 L460.27,632.00 L460.36,632.00 L460.45,632.00 L460.53,632.00 L460.62,632.00 L460.71,632.00 L460.80,632.00 L460.89,632.00 L460.98,632.00 L461.07,632.00 L461.16,632.00 L461.25,632.00 L461.35,632.00 L461.44,632.00 L461.53,632.00 L461.63,632.00 L461.72,632.00 L461.82,632.00 L461.91,632.00 L462.01,632.00 L462.11,632.00 L462.20,632.00 L462.30,632.00 L462.40,632.00 L462.50,632.00 L462.60,632.00 L462.70,632.00 L462.80,632.00 L462.90,632.00 L463.00,632.00 L463.11,632.00 L463.21,632.00 L463.32,632.00 L463.42,632.00 L463.53,632.00 L463.63,632.00 L463.74,632.00 L463.85,632.00 L463.96,632.00 L464.06,632.00 L464.17,632.00 L464.28,632.00 L464.40,632.00 L464.51,632.00 L464.62,632.00 L464.73,632.00 L464.85,632.00 L464.96,632.00 L465.08,632.00 L465.19,632.00 L465.31,632.00 L465.43,632.00 L465.55,632.00 L465.67,632.00 L465.79,632.00 L465.91,632.00 L466.03,632.00 L466.15,632.00 L466.27,632.00 L466.40,632.00 L466.52,632.00 L466.65,632.00 L466.78,632.00 L466.90,632.00 L467.03,632.00 L467.16,632.00 L467.29,632.00 L467.42,632.00 L467.56,632.00 L467.69,632.00 L467.82,632.00 L467.96,632.00 L468.09,632.00 L468.23,632.00 L468.37,632.00 L468.51,632.00 L468.65,632.00 L468.79,632.00 L468.93,632.00 L469.07,632.00 L469.22,632.00 L469.36,632.00 L469.51,632.00 L469.66,632.00 L469.80,632.00 L469.95,632.00 L470.10,632.00 L470.26,632.00 L470.41,632.00 L470.56,632.00 L470.72,632.00 L470.87,632.00 L471.03,632.00 L471.19,632.00 L471.35,632.00 L471.51,632.00 L471.67,632.00 L471.84,632.00 L472.00,632.00 L472.17,632.00 L472.33,632.00 L472.50,631.99 L472.67,631.99 L472.84,631.99 L473.02,631.99 L473.19,631.99 L473.37,631.99 L473.54,631.99 L473.72,631.99 L473.90,631.99 L474.08,631.99 L474.26,631.99 L474.45,631.99 L474.63,631.99 L474.82,631.99 L475.01,631.99 L475.20,631.99 L475.39,631.99 L475.58,631.98 L475.78,631.98 L475.98,631.98 L476.17,631.98 L476.37,631.98 L476.57,631.98 L476.78,631.98 L476.98,631.98 L477.19,631.97 L477.40,631.97 L477.61,631.97 L477.82,631.97 L478.03,631.97 L478.25,631.97 L478.46,631.96 L478.68,631.96 L478.90,631.96 L479.12,631.95 L479.35,631.95 L479.57,631.95 L479.80,631.95 L480.03,631.94 L480.26,631.94 L480.50,631.93 L480.73,631.93 L480.97,631.93 L481.21,631.92 L481.45,631.92 L481.69,631.91 L481.94,631.90 L482.19,631.90 L482.43,631.89 L482.69,631.88 L482.94,631.88 L483.19,631.87 L483.45,631.86 L483.71,631.85 L483.97,631.84 L484.23,631.83 L484.49,631.82 L484.76,631.81 L485.03,631.79 L485.30,631.78 L485.57,631.77 L485.84,631.75 L486.11,631.73 L486.39,631.72 L486.67,631.70 L486.95,631.68 L487.23,631.66 L487.51,631.63 L487.79,631.61 L488.07,631.58 L488.36,631.56 L488.64,631.53 L488.93,631.50 L489.22,631.46 L489.50,631.43 L489.79,631.39 L490.08,631.35 L490.36,631.31 L490.65,631.26 L490.93,631.22 L491.22,631.17 L491.50,631.11 L491.78,631.05 L492.06,630.99 L492.34,630.92 L492.61,630.85 L492.88,630.78 L493.15,630.70 L493.41,630.61 L493.67,630.52 L493.92,630.43 L494.17,630.32 L494.41,630.21 L494.64,630.10 L494.86,629.97 L495.08,629.84 L495.28,629.70 L495.47,629.54 L495.65,629.38 L495.82,629.21 L495.97,629.03 L496.10,628.83 L496.21,628.63 L496.31,628.41 L496.38,628.17 L496.43,627.92 L496.46,627.65 L496.46,579.40" fill="none" stroke="#1fae2a" stroke-width="1.6" stroke-linejoin="round" stroke-linecap="butt" />
<path d="M429.70,579.40 L438.23,579.40 L438.25,579.40 L438.28,579.40 L438.31,579.40 L438.33,579.40 L438.36,579.40 L438.39,579.40 L438.41,579.40 L438.44,579.40 L438.47,579.40 L438.50,579.40 L438.52,579.40 L438.55,579.40 L438.58,579.40 L438.61,579.40 L438.64,579.40 L438.67,579.40 L438.69,579.40 L438.72,579.40 L438.75,579.40 L438.78,579.40 L438.81,579.40 L438.84,579.40 L438.87,579.40 L438.90,579.40 L438.93,579.40 L438.96,579.40 L438.99,579.40 L439.02,579.40 L439.05,579.40 L439.09,579.40 L439.12,579.40 L439.15,579.40 L439.18,579.40 L439.21,579.40 L439.25,579.40 L439.28,579.40 L439.31,579.40 L439.34,579.40 L439.38,579.40 L439.41,579.40 L439.45,579.40 L439.48,579.40 L439.51,579.40 L439.55,579.40 L439.58,579.40 L439.62,579.40 L439.65,579.40 L439.69,579.40 L439.72,579.40 L439.76,579.40 L439.80,579.40 L439.83,579.40 L439.87,579.40 L439.91,579.40 L439.94,579.40 L439.98,579.40 L440.02,579.40 L440.06,579.40 L440.10,579.40 L440.14,579.40 L440.17,579.40 L440.21,579.40 L440.25,579.40 L440.29,579.40 L440.33,579.40 L440.37,579.40 L440.42,579.40 L440.46,579.40 L440.50,579.40 L440.54,579.40 L440.58,579.40 L440.62,579.40 L440.67,579.40 L440.71,579.40 L440.75,579.40 L440.80,579.40 L440.84,579.40 L440.89,579.40 L440.93,579.40 L440.98,579.40 L441.02,579.40 L441.07,579.40 L441.11,579.40 L441.16,579.40 L441.21,579.40 L441.26,579.40 L441.30,579.40 L441.35,579.40 L441.40,579.40 L441.45,579.40 L441.50,579.40 L441.55,579.40 L441.60,579.40 L441.65,579.40 L441.70,579.40 L441.75,579.40 L441.81,579.40 L441.86,579.40 L441.91,579.40 L441.96,579.40 L442.02,579.40 L442.07,579.40 L442.13,579.40 L442.18,579.40 L442.24,579.40 L442.30,579.40 L442.35,579.40 L442.41,579.40 L442.47,579.40 L442.53,579.40 L442.59,579.40 L442.65,579.40 L442.71,579.40 L442.77,579.40 L442.83,579.40 L442.89,579.40 L442.95,579.40 L443.02,579.40 L443.08,579.40 L443.14,579.40 L443.21,579.40 L443.27,579.40 L443.34,579.40 L443.41,579.40 L443.47,579.40 L443.54,579.40 L443.61,579.40 L443.68,579.40 L443.75,579.40 L443.82,579.40 L443.89,579.40 L443.97,579.40 L444.04,579.40 L444.11,579.40 L444.19,579.40 L444.26,579.40 L444.34,579.40 L444.42,579.40 L444.49,579.40 L444.57,579.40 L444.65,579.40 L444.73,579.40 L444.81,579.40 L444.89,579.40 L444.98,579.40 L445.06,579.40 L445.15,579.40 L445.23,579.40 L445.32,579.40 L445.41,579.40 L445.49,579.40 L445.58,579.40 L445.67,579.40 L445.77,579.40 L445.86,579.40 L445.95,579.40 L446.05,579.40 L446.14,579.40 L446.24,579.40 L446.34,579.40 L446.44,579.40 L446.54,579.40 L446.64,579.40 L446.74,579.40 L446.85,579.40 L446.95,579.40 L447.06,579.40 L447.17,579.40 L447.28,579.40 L447.39,579.40 L447.50,579.40 L447.62,579.40 L447.73,579.40 L447.85,579.40 L447.97,579.40 L448.09,579.40 L448.21,579.40 L448.33,579.40 L448.46,579.40 L448.58,579.40 L448.71,579.40 L448.84,579.40 L448.97,579.40 L449.11,579.40 L449.24,579.40 L449.38,579.40 L449.52,579.40 L449.66,579.40 L449.81,579.40 L449.95,579.40 L450.10,579.40 L450.25,579.40 L450.40,579.40 L450.55,579.40 L450.71,579.40 L450.87,579.40 L451.03,579.40 L451.20,579.40 L451.36,579.40 L451.53,579.40 L451.70,579.40 L451.88,579.40 L452.05,579.40 L452.23,579.40 L452.42,579.40 L452.60,579.40 L452.79,579.40 L452.98,579.40 L453.18,579.40 L453.38,579.40 L453.58,579.40 L453.78,579.40 L453.99,579.40 L454.21,579.40 L454.42,579.40 L454.64,579.40 L454.87,579.40 L455.10,579.40 L455.33,579.40 L455.56,579.40 L455.81,579.40 L456.05,579.40 L456.30,579.40 L456.56,579.40 L456.82,579.40 L457.08,579.40 L457.35,579.40 L457.63,579.40 L457.91,579.40 L458.20,579.40 L458.49,579.40 L458.79,579.40 L459.10,579.40 L459.41,579.40 L459.73,579.40 L460.05,579.40 L460.38,579.40 L460.72,579.40 L461.07,579.40 L461.43,579.40 L461.79,579.40 L462.16,579.40 L462.55,579.40 L462.93,579.40 L463.33,579.40 L463.74,579.40 L464.16,579.40 L464.59,579.40 L465.03,579.40 L465.48,579.40 L465.95,579.40 L466.42,579.40 L466.91,579.40 L467.41,579.40 L467.93,579.40 L468.46,579.40 L469.00,579.40 L469.56,579.40 L470.14,579.40 L470.73,579.40 L471.34,579.40 L471.97,579.40 L472.61,579.40 L473.28,579.40 L473.97,579.40 L474.68,579.40 L475.42,579.40 L476.18,579.40 L476.96,579.40 L477.77,579.40 L478.61,579.40 L479.48,579.40 L480.38,579.40 L481.32,579.40 L482.29,579.40 L483.29,579.40 L484.34,579.40 L485.43,579.40 L486.56,579.40 L487.74,579.40 L488.96,579.40 L490.25,579.40 L491.58,579.40 L492.98,579.40 L494.44,579.40 L495.98,579.40 L497.58,579.40 L499.27,579.40 L501.04,579.40 L502.91,579.41 L504.87,579.41 L506.94,579.41 L509.13,579.41 L511.45,579.41 L513.91,579.41 L516.52,579.41 L516.57,579.40" fill="none" stroke="#1fae2a" stroke-width="1.6" stroke-linejoin="round" stroke-linecap="butt" />
<line x1="429.70" y1="571.60" x2="516.57" y2="571.60" stroke="#1e1e1e" stroke-width="1.25" />
<line x1="516.57" y1="571.60" x2="516.57" y2="640.20" stroke="#1e1e1e" stroke-width="1.25" />
<line x1="429.70" y1="571.60" x2="429.70" y2="640.20" stroke="#1e1e1e" stroke-width="1.25" />
<line x1="429.70" y1="640.20" x2="516.57" y2="640.20" stroke="#1e1e1e" stroke-width="1.25" />
<line x1="424.70" y1="632.00" x2="429.70" y2="632.00" stroke="#1e1e1e" stroke-width="1.25" />
<line x1="424.70" y1="579.40" x2="429.70" y2="579.40" stroke="#1e1e1e" stroke-width="1.25" />
<line x1="429.70" y1="640.20" x2="429.70" y2="644.80" stroke="#1e1e1e" stroke-width="1.25" />
<text x="429.70" y="656.90" font-size="9.9" text-anchor="middle" fill="#1a1a1a" stroke="#1a1a1a" stroke-width="0.2"  letter-spacing="-0.25">0</text>
<line x1="452.56" y1="640.20" x2="452.56" y2="644.80" stroke="#1e1e1e" stroke-width="1.25" />
<text x="452.56" y="656.90" font-size="9.9" text-anchor="middle" fill="#1a1a1a" stroke="#1a1a1a" stroke-width="0.2"  letter-spacing="-0.25">200</text>
<line x1="475.42" y1="640.20" x2="475.42" y2="644.80" stroke="#1e1e1e" stroke-width="1.25" />
<text x="475.42" y="656.90" font-size="9.9" text-anchor="middle" fill="#1a1a1a" stroke="#1a1a1a" stroke-width="0.2"  letter-spacing="-0.25">400</text>
<line x1="498.28" y1="640.20" x2="498.28" y2="644.80" stroke="#1e1e1e" stroke-width="1.25" />
<text x="498.28" y="656.90" font-size="9.9" text-anchor="middle" fill="#1a1a1a" stroke="#1a1a1a" stroke-width="0.2"  letter-spacing="-0.25">600</text>
<text x="472.70" y="668.40" font-size="9.9" text-anchor="middle" fill="#1a1a1a" stroke="#1a1a1a" stroke-width="0.2"  letter-spacing="-0.25"><tspan font-style="italic">T</tspan> (K)</text>
<text x="424.90" y="554.40" font-size="8.4" text-anchor="start" fill="#1a1a1a" stroke="#1a1a1a" stroke-width="0.2" >(viii)</text>
<text x="437.40" y="564.90" font-size="9.9" text-anchor="start" fill="#1a1a1a" stroke="#1a1a1a" stroke-width="0.2"  letter-spacing="-0.25">γ<tspan font-size="6.5" dy="1.8">0</tspan><tspan dy="-1.8"> = 31.4 kJ mol</tspan><tspan font-size="6" dy="-3.6">−1</tspan></text>
<rect x="327.50" y="607.70" width="4.50" height="14.80" fill="#fff" stroke="none" stroke-width="0"/>
<rect x="514.20" y="607.60" width="4.50" height="14.80" fill="#fff" stroke="none" stroke-width="0"/>
<text x="50.80" y="605.60" font-size="9.8" text-anchor="start" fill="#1a1a1a" stroke="#1a1a1a" stroke-width="0.2" font-style="italic" >T</text>
<text x="55.80" y="608.10" font-size="8.6" text-anchor="start" fill="#1a1a1a" stroke="#1a1a1a" stroke-width="0.2" >↓</text>
<text x="69.00" y="605.60" font-size="9.8" text-anchor="start" fill="#1a1a1a" stroke="#1a1a1a" stroke-width="0.2" font-style="italic" >T</text>
<text x="74.00" y="608.10" font-size="8.6" text-anchor="start" fill="#1a1a1a" stroke="#1a1a1a" stroke-width="0.2" >↑</text>
<text x="66.90" y="618.80" font-size="9.9" text-anchor="start" fill="#1a1a1a" stroke="#1a1a1a" stroke-width="0.2" word-spacing="1" letter-spacing="-0.25">327 K</text>
<text x="147.90" y="605.60" font-size="9.8" text-anchor="start" fill="#1a1a1a" stroke="#1a1a1a" stroke-width="0.2" font-style="italic" >T</text>
<text x="152.90" y="608.10" font-size="8.6" text-anchor="start" fill="#1a1a1a" stroke="#1a1a1a" stroke-width="0.2" >↓</text>
<text x="133.90" y="618.80" font-size="9.9" text-anchor="start" fill="#1a1a1a" stroke="#1a1a1a" stroke-width="0.2" word-spacing="0.9" letter-spacing="-0.25">305 K</text>
<text x="172.20" y="605.60" font-size="9.8" text-anchor="start" fill="#1a1a1a" stroke="#1a1a1a" stroke-width="0.2" font-style="italic" >T</text>
<text x="177.20" y="608.10" font-size="8.6" text-anchor="start" fill="#1a1a1a" stroke="#1a1a1a" stroke-width="0.2" >↑</text>
<text x="170.90" y="618.80" font-size="9.9" text-anchor="start" fill="#1a1a1a" stroke="#1a1a1a" stroke-width="0.2" word-spacing="0.9" letter-spacing="-0.25">341 K</text>
<text x="244.90" y="605.60" font-size="9.8" text-anchor="start" fill="#1a1a1a" stroke="#1a1a1a" stroke-width="0.2" font-style="italic" >T</text>
<text x="249.90" y="608.10" font-size="8.6" text-anchor="start" fill="#1a1a1a" stroke="#1a1a1a" stroke-width="0.2" >↓</text>
<text x="231.00" y="618.80" font-size="9.9" text-anchor="start" fill="#1a1a1a" stroke="#1a1a1a" stroke-width="0.2" word-spacing="0.9" letter-spacing="-0.25">263 K</text>
<text x="274.80" y="605.60" font-size="9.8" text-anchor="start" fill="#1a1a1a" stroke="#1a1a1a" stroke-width="0.2" font-style="italic" >T</text>
<text x="279.80" y="608.10" font-size="8.6" text-anchor="start" fill="#1a1a1a" stroke="#1a1a1a" stroke-width="0.2" >↑</text>
<text x="274.80" y="618.80" font-size="9.9" text-anchor="start" fill="#1a1a1a" stroke="#1a1a1a" stroke-width="0.2" word-spacing="0.9" letter-spacing="-0.25">364 K</text>
<text x="333.50" y="605.60" font-size="9.8" text-anchor="start" fill="#1a1a1a" stroke="#1a1a1a" stroke-width="0.2" font-style="italic" >T</text>
<text x="338.50" y="608.10" font-size="8.6" text-anchor="start" fill="#1a1a1a" stroke="#1a1a1a" stroke-width="0.2" >↓</text>
<text x="316.90" y="618.80" font-size="9.9" text-anchor="start" fill="#1a1a1a" stroke="#1a1a1a" stroke-width="0.2" word-spacing="0.9" letter-spacing="-0.25">132 K</text>
<text x="388.00" y="605.60" font-size="9.8" text-anchor="start" fill="#1a1a1a" stroke="#1a1a1a" stroke-width="0.2" font-style="italic" >T</text>
<text x="393.00" y="608.10" font-size="8.6" text-anchor="start" fill="#1a1a1a" stroke="#1a1a1a" stroke-width="0.2" >↑</text>
<text x="384.50" y="618.80" font-size="9.9" text-anchor="start" fill="#1a1a1a" stroke="#1a1a1a" stroke-width="0.2" word-spacing="0.9" letter-spacing="-0.25">416 K</text>
<text x="502.20" y="605.60" font-size="9.8" text-anchor="start" fill="#1a1a1a" stroke="#1a1a1a" stroke-width="0.2" font-style="italic" >T</text>
<text x="507.20" y="608.10" font-size="8.6" text-anchor="start" fill="#1a1a1a" stroke="#1a1a1a" stroke-width="0.2" >↑</text>
<text x="501.70" y="618.80" font-size="9.9" text-anchor="start" fill="#1a1a1a" stroke="#1a1a1a" stroke-width="0.2" word-spacing="0.9" letter-spacing="-0.25">583 K</text>
<text x="16.90" y="582.60" font-size="9.9" text-anchor="end" fill="#1a1a1a" stroke="#1a1a1a" stroke-width="0.2"  letter-spacing="-0.25">1</text>
<text x="16.90" y="635.30" font-size="9.9" text-anchor="end" fill="#1a1a1a" stroke="#1a1a1a" stroke-width="0.2"  letter-spacing="-0.25">0</text>
<text transform="translate(11.2,603.3) rotate(-90)" font-size="11.5" text-anchor="middle" fill="#1a1a1a" stroke="#1a1a1a" stroke-width="0.2" font-style="italic">x</text>
</svg></body></html>
